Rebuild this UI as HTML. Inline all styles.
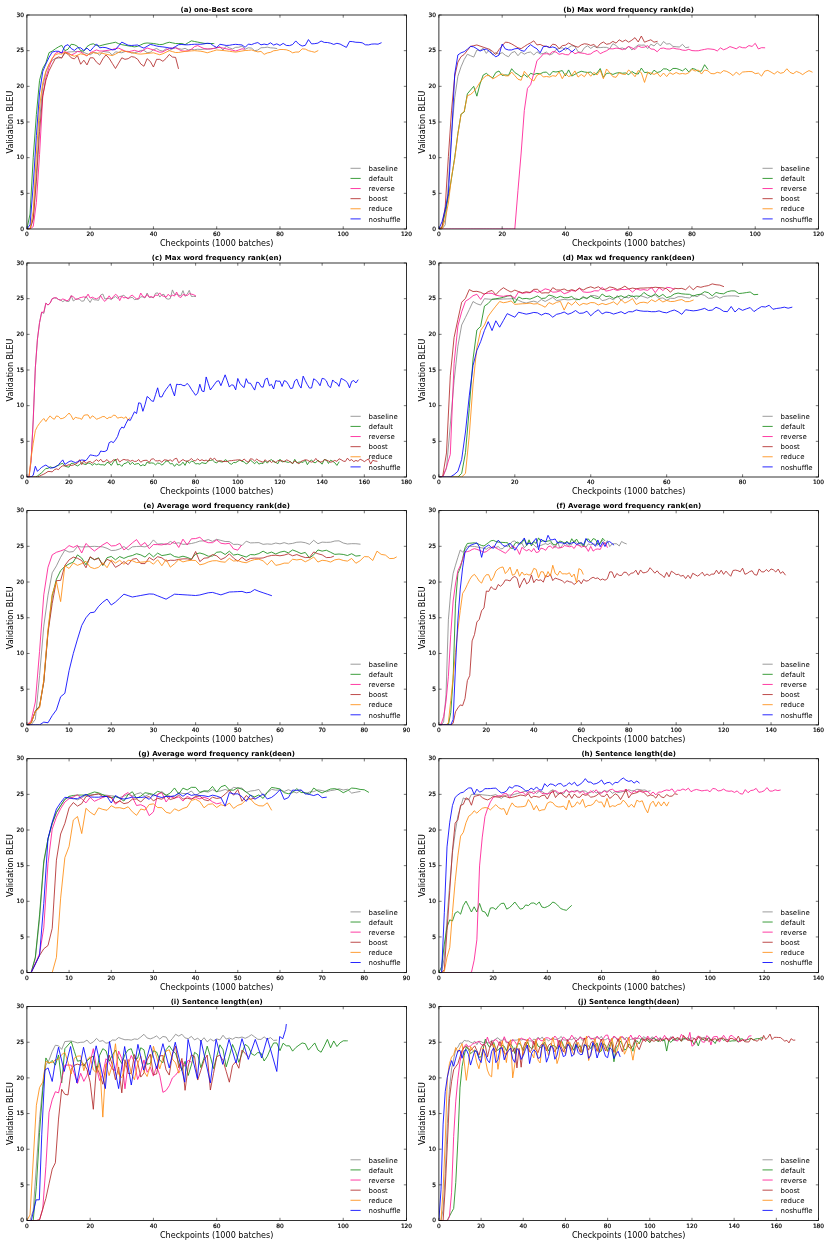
<!DOCTYPE html><html><head><meta charset="utf-8"><title>Validation BLEU curves</title><style>html,body{margin:0;padding:0;background:#fff;}svg{display:block;}</style></head><body>
<svg width="830" height="1246" viewBox="0 0 830 1246" font-family="DejaVu Sans,Liberation Sans,sans-serif">
<rect x="0" y="0" width="830" height="1246" fill="#fff"/>
<clipPath id="ca"><rect x="26.9" y="14" width="379.6" height="215"/></clipPath>
<g clip-path="url(#ca)" fill="none" stroke-width="0.85" stroke-linejoin="round" stroke-linecap="round">
<polyline stroke="#8a8a8a" points="26.9,229 30.06,229 33.23,217.59 36.39,173.76 39.55,120.57 42.72,87.13 45.88,72.12 49.04,64.4 52.21,60.47 55.37,58.37 58.53,58.08 61.7,57.57 64.86,53.01 68.02,51.97 71.19,51.83 74.35,51.68 77.51,51.53 80.68,51.38 83.84,52.53 87,53.68 90.17,54.83 93.33,52.65 96.49,52.69 99.66,55.32 102.82,51.4 105.98,51.81 109.15,52.2 112.31,55.11 115.47,51.84 118.64,52.37 121.8,52.78 124.96,51.55 128.13,51.27 131.29,53.03 134.45,52.66 137.62,51.99 140.78,50.35 143.94,50.37 147.11,52.63 150.27,52.25 153.43,49.72 156.6,48.5 159.76,50.42 162.92,51.12 166.09,48.69 169.25,50.35 172.41,48.88 175.58,47.68 178.74,48.72 181.9,49.29 185.07,48.3 188.23,49.99 191.39,49.33 194.56,49.76 197.72,49.22 200.88,49.51 204.05,49.05 207.21,49.23 210.37,48.56 213.54,48.52 216.7,48.15 219.86,46.49 223.03,50.04 226.19,46.15 229.35,47.88 232.52,48.92 235.68,47.32 238.84,47.22 242.01,46.2 245.17,49.18 248.33,47.77 251.5,48.14 254.66,50.69 257.82,50.05 260.99,47.76 264.15,47.63 267.31,47.13 270.48,47.84 273.64,48.02 276.8,48.53"/>
<polyline stroke="#1a8c1a" points="26.9,229 30.06,214.07 33.23,157.67 36.39,114.53 39.55,80.33 42.72,68.5 45.88,62.86 49.04,52.65 52.21,51.14 55.37,48.85 58.53,46.9 61.7,45.34 64.86,50.67 68.02,49.24 71.19,44.25 74.35,44.74 77.51,46.39 80.68,50.67 83.84,51.15 87,46.59 90.17,44.53 93.33,43.77 96.49,45.51 99.66,45.91 102.82,45 105.98,44.25 109.15,43.58 112.31,42.91 115.47,42.24 118.64,43.66 121.8,44.66 124.96,45.26 128.13,45.83 131.29,46.34 134.45,46.85 137.62,46.36 140.78,44.89 143.94,43.41 147.11,42.97 150.27,43.23 153.43,43.48 156.6,44.03 159.76,44.65 162.92,44.34 166.09,43.1 169.25,42.24 172.41,42.88 175.58,43.53 178.74,43.53 181.9,43.53 185.07,44.64 188.23,42.68 191.39,40.87 194.56,41.49 197.72,42.11 200.88,42.73 204.05,43.35 207.21,43.53 210.37,43.53 213.54,43.53 213.85,43.53"/>
<polyline stroke="#ff1a94" points="26.9,229 30.06,229 33.23,226.58 36.39,202.43 39.55,154.53 42.72,96.81 45.88,77.47 49.04,67.28 52.21,58.81 55.37,53.46 58.53,51.72 61.7,52.75 64.86,51.61 68.02,52.9 71.19,54.95 74.35,53.66 77.51,51.48 80.68,51.99 83.84,54.11 87,56.05 90.17,52.81 93.33,51.38 96.49,49.95 99.66,51.02 102.82,51 105.98,50.58 109.15,50.16 112.31,49.49 115.47,48.56 118.64,48.11 121.8,49.58 124.96,51.06 128.13,51.86 131.29,51.1 134.45,50.34 137.62,51.25 140.78,51.9 143.94,49.63 147.11,48.01 150.27,48.98 153.43,49.95 156.6,51.09 159.76,52.24 162.92,51.88 166.09,50.02 169.25,48.46 172.41,48.14 175.58,47.81 178.74,49.36 181.9,50.91 185.07,51.15 188.23,50.83 191.39,49.31 194.56,46.59 197.72,45.58 200.88,47.13 204.05,48.56 207.21,48.87 210.37,49.18 213.54,48.46 216.7,47.49 219.86,47.47 223.03,48.09 226.19,48.75 229.35,49.5 232.52,50.25 235.68,51 238.84,49.95 242.01,48.8 244.54,49.24"/>
<polyline stroke="#b22a2a" points="26.9,229 30.06,229 33.23,219.49 36.39,181.14 39.55,131.41 42.72,95.7 45.88,80.43 49.04,70.8 52.21,64.46 55.37,58.59 58.53,56.89 61.7,58.14 64.86,52.45 68.02,54.23 71.19,57.8 74.35,58.9 77.51,55.66 80.68,64.22 83.84,60.21 87,64.93 90.17,57.8 93.33,57.8 96.49,62.16 99.66,64.7 102.82,58.93 105.98,54.88 109.15,58.31 112.31,63.4 115.47,68.5 118.64,63.15 121.8,57.8 124.96,59.33 128.13,58.68 131.29,56.58 134.45,57.18 137.62,59.23 140.78,63.98 143.94,66.26 147.11,58.66 150.27,61.37 153.43,67.02 156.6,59.34 159.76,59.36 162.92,61.3 166.09,58.41 169.25,54.47 172.41,57.02 175.58,57.41 178.42,68.5"/>
<polyline stroke="#ff8c10" points="26.9,229 30.06,229 33.23,210.98 36.39,154.18 39.55,106.72 42.72,83.1 45.88,71.17 49.04,64.18 52.21,58.33 55.37,54.77 58.53,53.69 61.7,54.15 64.86,52.44 68.02,53.52 71.19,55.02 74.35,56.26 77.51,55.17 80.68,53.81 83.84,54.53 87,55.46 90.17,53.48 93.33,52.45 96.49,53.46 99.66,52.87 102.82,53.45 105.98,54.16 109.15,54.88 112.31,55.59 115.47,54.11 118.64,52.39 121.8,50.67 124.96,51.3 128.13,51.94 131.29,52.58 134.45,53.21 137.62,53.85 140.78,54.1 143.94,53.78 147.11,53.46 150.27,53.13 153.43,52.81 156.6,53.78 159.76,54.75 162.92,53.72 166.09,52.2 169.25,50.67 172.41,51.6 175.58,52.53 178.74,52.44 181.9,51.91 185.07,51.38 188.23,51.14 191.39,50.9 194.56,50.67 197.72,50.95 200.88,51.24 204.05,51.86 207.21,52.81 210.37,51.86 213.54,50.9 216.7,49.95 219.86,50.24 223.03,50.52 226.19,50.87 229.35,51.28 232.52,51.69 235.68,52.09 238.84,51.56 242.01,51.02 245.17,50.49 248.33,50.35 251.5,49.95 254.66,51.01 257.82,51.88 260.99,51.36 264.15,54.36 267.31,52.93 270.48,52.35 273.64,50.77 276.8,50.42 279.97,49.5 283.13,49.5 286.29,49.78 289.46,50.85 292.62,52.82 295.78,52.04 298.95,52.06 302.11,48.85 305.27,49.08 308.44,50.65 311.6,51.49 314.76,52.28 317.93,50.67"/>
<polyline stroke="#0000ff" points="26.9,229 30.06,224.8 33.23,185.13 36.39,135.45 39.55,92.87 42.72,71.65 45.88,64 49.04,57.36 52.21,52.02 55.37,51.24 58.53,51.3 61.7,53.1 64.86,46 68.02,44.64 71.19,48.53 74.35,50.41 77.51,47.81 80.68,47.81 83.84,50.52 87,48.11 90.17,51.08 93.33,47.46 96.49,43.92 99.66,47.81 102.82,47.34 105.98,47.66 109.15,48.77 112.31,49.89 115.47,49.55 118.64,45.83 121.8,42.11 124.96,43.66 128.13,45.21 131.29,45.49 134.45,45.24 137.62,44.99 140.78,46.85 143.94,48.15 147.11,46.29 150.27,44.43 153.43,45.08 156.6,46.01 159.76,46.58 162.92,46.91 166.09,47.35 169.25,47.97 172.41,48.34 175.58,46.48 178.74,44.62 181.9,44.49 185.07,44.8 188.23,44.8 191.39,44.49 194.56,44.25 197.72,44.25 200.88,44.25 204.05,43.87 207.21,43.25 210.37,43.5 213.54,45.77 216.7,47.49 219.86,44.25 223.03,44.84 226.19,45.44 229.35,45.3 232.52,44.68 235.68,44.34 238.84,44.65 242.01,44.96 245.17,47.34 248.33,44.1 251.5,44.62 254.66,43.38 257.82,42.57 260.99,44.83 264.15,44.1 267.31,44.74 270.48,42.79 273.64,45.03 276.8,43.84 279.97,45.43 283.13,43.4 286.29,45.42 289.46,45.63 292.62,44.5 295.78,40.93 298.95,44.24 302.11,46.03 305.27,45.37 308.44,39.58 311.6,43.88 314.76,43.67 317.93,43.1 321.09,41 324.25,42.41 327.42,42.5 330.58,43.2 333.74,44.42 336.91,43.31 340.07,44.06 343.23,45.74 346.4,47.38 349.56,41.42 352.72,41.66 355.89,42.28 359.05,42.36 362.21,42.81 365.38,44.81 368.54,44.91 371.7,44.1 374.87,43.94 378.03,44.2 381.19,42.82"/>
</g>
<path d="M26.9 229v-2.7M26.9 15v2.7M90.17 229v-2.7M90.17 15v2.7M153.43 229v-2.7M153.43 15v2.7M216.7 229v-2.7M216.7 15v2.7M279.97 229v-2.7M279.97 15v2.7M343.23 229v-2.7M343.23 15v2.7M406.5 229v-2.7M406.5 15v2.7M26.9 229h2.7M406.5 229h-2.7M26.9 193.33h2.7M406.5 193.33h-2.7M26.9 157.67h2.7M406.5 157.67h-2.7M26.9 122h2.7M406.5 122h-2.7M26.9 86.33h2.7M406.5 86.33h-2.7M26.9 50.67h2.7M406.5 50.67h-2.7M26.9 15h2.7M406.5 15h-2.7" stroke="#000" stroke-width="0.55" fill="none"/>
<rect x="26.9" y="15" width="379.6" height="214" fill="none" stroke="#000" stroke-width="0.8"/>
<g font-size="5.9" fill="#000" stroke="#000" stroke-width="0.2"><text x="26.9" y="236" text-anchor="middle">0</text><text x="90.17" y="236" text-anchor="middle">20</text><text x="153.43" y="236" text-anchor="middle">40</text><text x="216.7" y="236" text-anchor="middle">60</text><text x="279.97" y="236" text-anchor="middle">80</text><text x="343.23" y="236" text-anchor="middle">100</text><text x="406.5" y="236" text-anchor="middle">120</text><text x="23.9" y="230.7" text-anchor="end">0</text><text x="23.9" y="195.03" text-anchor="end">5</text><text x="23.9" y="159.37" text-anchor="end">10</text><text x="23.9" y="123.7" text-anchor="end">15</text><text x="23.9" y="88.03" text-anchor="end">20</text><text x="23.9" y="52.37" text-anchor="end">25</text><text x="23.9" y="16.7" text-anchor="end">30</text></g>
<text x="216.7" y="12" text-anchor="middle" font-size="7" font-weight="bold">(a) one-Best score</text>
<text x="216.7" y="246" text-anchor="middle" font-size="8.07">Checkpoints (1000 batches)</text>
<text transform="translate(12.8 122) rotate(-90)" text-anchor="middle" font-size="8">Validation BLEU</text>
<g><path d="M350.5 168.3H360.7" stroke="#8a8a8a" stroke-width="0.85"/><text x="368.6" y="171" font-size="6.95">baseline</text><path d="M350.5 178.42H360.7" stroke="#1a8c1a" stroke-width="0.85"/><text x="368.6" y="181.12" font-size="6.95">default</text><path d="M350.5 188.54H360.7" stroke="#ff1a94" stroke-width="0.85"/><text x="368.6" y="191.24" font-size="6.95">reverse</text><path d="M350.5 198.66H360.7" stroke="#b22a2a" stroke-width="0.85"/><text x="368.6" y="201.36" font-size="6.95">boost</text><path d="M350.5 208.78H360.7" stroke="#ff8c10" stroke-width="0.85"/><text x="368.6" y="211.48" font-size="6.95">reduce</text><path d="M350.5 218.9H360.7" stroke="#0000ff" stroke-width="0.85"/><text x="368.6" y="221.6" font-size="6.95">noshuffle</text></g>
<clipPath id="cb"><rect x="438.9" y="14" width="379.6" height="215"/></clipPath>
<g clip-path="url(#cb)" fill="none" stroke-width="0.85" stroke-linejoin="round" stroke-linecap="round">
<polyline stroke="#8a8a8a" points="438.9,229 442.06,229 445.23,224.83 448.39,183.13 451.55,131.99 454.72,97.75 457.88,76.35 461.04,66.84 464.21,59.46 467.37,54.23 470.53,55.66 473.7,57.09 476.86,50.06 480.02,50.45 483.19,48.23 486.35,53.41 489.51,49.38 492.68,54.89 495.84,52.5 499,54.26 502.17,52.6 505.33,55.25 508.49,56.76 511.66,52.72 514.82,51.5 517.98,55.71 521.15,52.04 524.31,54.17 527.47,52.56 530.64,52.05 533.8,55.03 536.96,51.85 540.13,53.96 543.29,53.5 546.45,52.05 549.62,55.01 552.78,53.62 555.94,49.66 559.11,48.47 562.27,47.72 565.43,50.23 568.6,47.64 571.76,45.67 574.92,46.4 578.09,51.77 581.25,52.44 584.41,47.74 587.58,45.83 590.74,48.44 593.9,46.24 597.07,47.65 600.23,47.58 603.39,47.32 606.56,47.38 609.72,48.65 612.88,43.69 616.05,45.56 619.21,48.61 622.37,47.92 625.54,49.44 628.7,46.07 631.86,49.98 635.03,47.46 638.19,44.97 641.35,45.19 644.52,44.98 647.68,48.56 650.84,44.22 654.01,45.96 657.17,42.66 660.33,45.91 663.5,41.54 666.66,44.07 669.82,43.67 672.99,46.41 676.15,46.75 679.31,47.01 682.48,44.35 685.64,47.75 688.8,47.1"/>
<polyline stroke="#1a8c1a" points="438.9,229 442.06,227.46 445.23,212.05 448.39,196.64 451.55,178.05 454.72,157.33 457.88,133.59 461.04,114.21 464.21,112.01 467.37,93.78 470.53,90.06 473.7,86.33 476.86,96.17 480.02,83.99 483.19,75.06 486.35,73.32 489.51,76.04 492.68,77.94 495.84,72.49 499,71 502.17,75.46 505.33,74.88 508.49,75.29 511.66,68.71 514.82,72.57 517.98,74.52 521.15,76.93 524.31,74.53 527.47,77.24 530.64,73.27 533.8,74.49 536.96,73.42 540.13,73.86 543.29,72.37 546.45,72.06 549.62,75.26 552.78,71.47 555.94,71.99 559.11,71.4 562.27,70.57 565.43,75.91 568.6,69.91 571.76,76.06 574.92,74.34 578.09,72.56 581.25,71.27 584.41,71.99 587.58,72.44 590.74,72.07 593.9,74.98 597.07,72.98 600.23,68.54 603.39,77.41 606.56,73.37 609.72,73.1 612.88,74.48 616.05,73.12 619.21,72.67 622.37,73.28 625.54,72.94 628.7,74.72 631.86,71.48 635.03,73.44 638.19,74.04 641.35,68.07 644.52,72.6 647.68,72.21 650.84,74.55 654.01,70.17 657.17,72.51 660.33,71.64 663.5,68.84 666.66,68.97 669.82,71 672.99,68.46 676.15,68.44 679.31,69.46 682.48,70.89 685.64,68.35 688.8,71.95 691.97,68.49 695.13,69.19 698.29,71.41 701.46,71.09 704.62,64.73 707.78,69.21"/>
<polyline stroke="#ff1a94" points="438.9,229 442.06,229 445.23,229 448.39,229 451.55,229 454.72,229 457.88,229 461.04,229 464.21,229 467.37,229 470.53,229 473.7,229 476.86,229 480.02,229 483.19,229 486.35,229 489.51,229 492.68,229 495.84,229 499,229 502.17,229 505.33,229 508.49,229 511.66,229 514.82,229 517.98,190.36 521.15,153.06 524.31,110.59 527.47,88.42 530.64,84.58 533.8,73.49 536.96,60.65 540.13,57.74 543.29,53.96 546.45,53.7 549.62,54.12 552.78,51.62 555.94,52.01 559.11,54.33 562.27,53.52 565.43,54.57 568.6,54.88 571.76,50.97 574.92,53.76 578.09,52.52 581.25,53.04 584.41,53.44 587.58,54.43 590.74,53.95 593.9,51.65 597.07,50.33 600.23,53.71 603.39,52.12 606.56,50.74 609.72,48.7 612.88,48.92 616.05,48.14 619.21,48.43 622.37,49.68 625.54,48.51 628.7,46.58 631.86,47.85 635.03,49.51 638.19,46 641.35,47.35 644.52,47.12 647.68,45.65 650.84,49.01 654.01,49.3 657.17,51.77 660.33,48.49 663.5,48.02 666.66,48.95 669.82,49.03 672.99,47.96 676.15,48.83 679.31,49.17 682.48,50.11 685.64,50.4 688.8,49.33 691.97,50.58 695.13,50.8 698.29,50.76 701.46,50.01 704.62,49.4 707.78,48.79 710.95,49.07 714.11,49.48 717.27,50.96 720.44,47.89 723.6,49.77 726.76,48.52 729.93,46.59 733.09,47.62 736.25,48.8 739.42,46.66 742.58,47.72 745.74,47.81 748.91,45.57 752.07,46.43 755.23,43.33 758.4,48.94 761.56,47.67 764.72,47.81"/>
<polyline stroke="#b22a2a" points="438.9,229 442.06,226.96 445.23,206.51 448.39,156.6 451.55,110.16 454.72,76.35 457.88,62.08 461.04,56.66 464.21,54.45 467.37,50.42 470.53,46.39 473.7,45.67 476.86,44.96 480.02,46.06 483.19,47.15 486.35,48.24 489.51,49.31 492.68,51.49 495.84,54.45 499,49.58 502.17,45.86 505.33,42.14 508.49,42.53 511.66,43.96 514.82,45.84 517.98,47.84 521.15,48.62 524.31,46.55 527.47,44.48 530.64,42.88 533.8,40.84 536.96,44.91 540.13,44.41 543.29,45.93 546.45,46.39 549.62,47.37 552.78,44.11 555.94,44.91 559.11,48.65 562.27,45.68 565.43,45.18 568.6,43.02 571.76,44.67 574.92,46.2 578.09,47.24 581.25,44.87 584.41,43.79 587.58,44.18 590.74,45.46 593.9,44.52 597.07,47.5 600.23,43.8 603.39,42 606.56,44.28 609.72,43.63 612.88,41.38 616.05,43.13 619.21,39.82 622.37,41.68 625.54,40.05 628.7,42.18 631.86,40.16 635.03,37.67 638.19,41.99 641.35,36.02 644.52,42.21 647.68,40.91 650.84,39.79 654.01,42.2 657.17,41.39"/>
<polyline stroke="#ff8c10" points="438.9,229 442.06,229 445.23,219.25 448.39,203 451.55,176.93 454.72,158.67 457.88,134.13 461.04,114.54 464.21,111.3 467.37,95.61 470.53,94.51 473.7,91.68 476.86,87.35 480.02,82.26 483.19,78.2 486.35,75.7 489.51,75.54 492.68,78.87 495.84,77.22 499,75.03 502.17,74.03 505.33,75.81 508.49,75.91 511.66,72.07 514.82,75.63 517.98,79.2 521.15,80.27 524.31,71.35 527.47,75.17 530.64,79 533.8,80.98 536.96,75.23 540.13,73.73 543.29,76.98 546.45,76.47 549.62,77.04 552.78,75.66 555.94,76.3 559.11,71.84 562.27,78.7 565.43,73.42 568.6,76.54 571.76,75.24 574.92,70.91 578.09,77.05 581.25,74.46 584.41,76.75 587.58,72.31 590.74,76.25 593.9,72.42 597.07,74.98 600.23,70.07 603.39,78.71 606.56,68.98 609.72,72.72 612.88,76.68 616.05,77.31 619.21,72.76 622.37,74.16 625.54,74.48 628.7,69.96 631.86,73.07 635.03,76.73 638.19,70.55 641.35,72.7 644.52,82.41 647.68,72.62 650.84,72.93 654.01,74.43 657.17,72.83 660.33,76.71 663.5,73.02 666.66,76.56 669.82,72.74 672.99,74.41 676.15,72.47 679.31,74 682.48,73.48 685.64,74.06 688.8,72.84 691.97,69.4 695.13,71.03 698.29,69.99 701.46,74.05 704.62,70.01 707.78,70.78 710.95,73.52 714.11,73.8 717.27,72.29 720.44,73.15 723.6,70.63 726.76,71.43 729.93,73.1 733.09,75.58 736.25,72.1 739.42,74.7 742.58,72.05 745.74,71.74 748.91,71.53 752.07,71.63 755.23,73.63 758.4,73.1 761.56,76.14 764.72,71.06 767.89,70.4 771.05,72.09 774.21,74.09 777.38,71.46 780.54,73.3 783.7,72.44 786.87,68.75 790.03,72.35 793.19,73.73 796.36,71.43 799.52,72.66 802.68,74.6 805.85,72.29 809.01,70.6 812.17,72.07"/>
<polyline stroke="#0000ff" points="438.9,229 442.06,221.64 445.23,209.37 448.39,193.33 451.55,137.9 454.72,73.97 457.88,54.95 461.04,52.81 464.21,51.67 467.37,49.24 470.53,46.39 473.7,46.86 476.86,48.75 480.02,51.09 483.19,49.67 486.35,49.05 489.51,51.64 492.68,54.23 495.84,56.83 499,55.09 502.17,44.03 505.33,48.97 508.49,49.95 511.66,49.95 514.82,48.81 517.98,48.42 521.15,50.46 524.31,51.31 527.47,47.39 530.64,44.7 533.8,46.97 536.96,48.82 540.13,52.86 543.29,46.64 546.45,46.22 549.62,47.59 552.78,46.95 555.94,48.02 559.11,52.15 562.27,50.51 565.43,47.91 568.6,48.9 571.76,52.05 574.92,49.24"/>
</g>
<path d="M438.9 229v-2.7M438.9 15v2.7M502.17 229v-2.7M502.17 15v2.7M565.43 229v-2.7M565.43 15v2.7M628.7 229v-2.7M628.7 15v2.7M691.97 229v-2.7M691.97 15v2.7M755.23 229v-2.7M755.23 15v2.7M818.5 229v-2.7M818.5 15v2.7M438.9 229h2.7M818.5 229h-2.7M438.9 193.33h2.7M818.5 193.33h-2.7M438.9 157.67h2.7M818.5 157.67h-2.7M438.9 122h2.7M818.5 122h-2.7M438.9 86.33h2.7M818.5 86.33h-2.7M438.9 50.67h2.7M818.5 50.67h-2.7M438.9 15h2.7M818.5 15h-2.7" stroke="#000" stroke-width="0.55" fill="none"/>
<rect x="438.9" y="15" width="379.6" height="214" fill="none" stroke="#000" stroke-width="0.8"/>
<g font-size="5.9" fill="#000" stroke="#000" stroke-width="0.2"><text x="438.9" y="236" text-anchor="middle">0</text><text x="502.17" y="236" text-anchor="middle">20</text><text x="565.43" y="236" text-anchor="middle">40</text><text x="628.7" y="236" text-anchor="middle">60</text><text x="691.97" y="236" text-anchor="middle">80</text><text x="755.23" y="236" text-anchor="middle">100</text><text x="818.5" y="236" text-anchor="middle">120</text><text x="435.9" y="230.7" text-anchor="end">0</text><text x="435.9" y="195.03" text-anchor="end">5</text><text x="435.9" y="159.37" text-anchor="end">10</text><text x="435.9" y="123.7" text-anchor="end">15</text><text x="435.9" y="88.03" text-anchor="end">20</text><text x="435.9" y="52.37" text-anchor="end">25</text><text x="435.9" y="16.7" text-anchor="end">30</text></g>
<text x="628.7" y="12" text-anchor="middle" font-size="7" font-weight="bold">(b) Max word frequency rank(de)</text>
<text x="628.7" y="246" text-anchor="middle" font-size="8.07">Checkpoints (1000 batches)</text>
<text transform="translate(424.8 122) rotate(-90)" text-anchor="middle" font-size="8">Validation BLEU</text>
<g><path d="M762.5 168.3H772.7" stroke="#8a8a8a" stroke-width="0.85"/><text x="780.6" y="171" font-size="6.95">baseline</text><path d="M762.5 178.42H772.7" stroke="#1a8c1a" stroke-width="0.85"/><text x="780.6" y="181.12" font-size="6.95">default</text><path d="M762.5 188.54H772.7" stroke="#ff1a94" stroke-width="0.85"/><text x="780.6" y="191.24" font-size="6.95">reverse</text><path d="M762.5 198.66H772.7" stroke="#b22a2a" stroke-width="0.85"/><text x="780.6" y="201.36" font-size="6.95">boost</text><path d="M762.5 208.78H772.7" stroke="#ff8c10" stroke-width="0.85"/><text x="780.6" y="211.48" font-size="6.95">reduce</text><path d="M762.5 218.9H772.7" stroke="#0000ff" stroke-width="0.85"/><text x="780.6" y="221.6" font-size="6.95">noshuffle</text></g>
<clipPath id="cc"><rect x="26.9" y="262" width="379.6" height="215"/></clipPath>
<g clip-path="url(#cc)" fill="none" stroke-width="0.85" stroke-linejoin="round" stroke-linecap="round">
<polyline stroke="#8a8a8a" points="26.9,477 29.01,477 31.12,460.36 33.23,419.93 35.34,367.86 37.44,339.15 39.55,322.6 41.66,312.22 43.77,313.45 45.88,303.14 47.99,305.04 50.1,303.12 52.21,298.67 54.32,297.87 56.42,298.39 58.53,299.51 60.64,299.92 62.75,301.68 64.86,300.36 66.97,301.42 69.08,301.35 71.19,295.63 73.3,300.99 75.4,299.56 77.51,298.66 79.62,299.46 81.73,301.18 83.84,300.94 85.95,296.3 88.06,299.5 90.17,302.43 92.28,298.49 94.38,299.75 96.49,299.95 98.6,300.38 100.71,295.03 102.82,294.01 104.93,299.1 107.04,298.38 109.15,298.47 111.26,299.59 113.36,297.8 115.47,296.5 117.58,298.3 119.69,296.56 121.8,296.13 123.91,295.17 126.02,297.65 128.13,298.27 130.24,297.78 132.34,297.28 134.45,299.67 136.56,299.33 138.67,299.2 140.78,296.75 142.89,296.86 145,298 147.11,293.04 149.22,297.28 151.32,297.33 153.43,297.58 155.54,293.27 157.65,292.87 159.76,297.09 161.87,294.81 163.98,294.31 166.09,298.47 168.2,299.22 170.3,298.51 172.41,289.91 174.52,294.46 176.63,294.29 178.74,295.19 180.85,295.72 182.96,290.62 185.07,296.3 187.18,294.25 189.28,290.34 191.39,296.48 193.5,296.36 195.61,296.53"/>
<polyline stroke="#1a8c1a" points="26.9,477 29.01,477 31.12,477 33.23,477 35.34,477 37.44,476 39.55,474.34 41.66,472.67 43.77,470.66 45.88,468.4 47.99,468.41 50.1,466.77 52.21,467.61 54.32,467.63 56.42,465.9 58.53,465.47 60.64,463.96 62.75,463.45 64.86,465.96 66.97,466.83 69.08,467.11 71.19,463.42 73.3,463.25 75.4,464.81 77.51,465.91 79.62,464.66 81.73,462.53 83.84,464.06 85.95,464.55 88.06,462.98 90.17,463.44 92.28,465.29 94.38,463.55 96.49,464.68 98.6,463.99 100.71,464.77 102.82,464.72 104.93,465.23 107.04,462.38 109.15,462.94 111.26,465.4 113.36,462.11 115.47,459.02 117.58,464.98 119.69,464.25 121.8,466.38 123.91,463.7 126.02,463.17 128.13,461.48 130.24,464.59 132.34,462.25 134.45,464.53 136.56,463.82 138.67,463.53 140.78,466.03 142.89,464.66 145,465.74 147.11,462 149.22,463.28 151.32,462.91 153.43,463.2 155.54,464.82 157.65,463.04 159.76,463.46 161.87,465.07 163.98,463.59 166.09,460.98 168.2,461.19 170.3,463.94 172.41,463.56 174.52,466.35 176.63,463.78 178.74,465.35 180.85,464.75 182.96,462.2 185.07,465.36 187.18,460.75 189.28,463.24 191.39,461.29 193.5,461.65 195.61,463.98 197.72,463.59 199.83,464.18 201.94,462.54 204.05,463.28 206.16,463.47 208.26,460.38 210.37,460.48 212.48,459.96 214.59,462.03 216.7,462.99 218.81,460.65 220.92,461.91 223.03,461.95 225.14,459.68 227.24,460.77 229.35,463.3 231.46,464.29 233.57,462.51 235.68,462.61 237.79,461.35 239.9,459.86 242.01,461.41 244.12,461.85 246.22,464 248.33,462.69 250.44,460.2 252.55,461.85 254.66,463.76 256.77,461.44 258.88,464.12 260.99,463.17 263.1,463.49 265.2,460.8 267.31,463.15 269.42,460.69 271.53,459.59 273.64,461.86 275.75,462.42 277.86,463.67 279.97,459.16 282.08,462.03 284.18,461.17 286.29,461.9 288.4,462.46 290.51,461.47 292.62,463.89 294.73,459.35 296.84,462.85 298.95,462.11 301.06,462.01 303.16,462.35 305.27,460.14 307.38,464.68 309.49,461.46 311.6,459.94 313.71,462.53 315.82,462.67 317.93,460.06 320.04,462.23 322.14,464.15 324.25,459.52 326.36,459.95 328.47,463.46 330.58,460.22 332.69,461.27 334.8,462.75 336.91,465.41 339.02,462.02"/>
<polyline stroke="#ff1a94" points="26.9,477 29.01,477 31.12,460.36 33.23,419.93 35.34,367.86 37.44,339.15 39.55,322.6 41.66,312.22 43.77,312.28 45.88,303.14 47.99,305.04 50.1,303.12 52.21,298.67 54.32,297.87 56.42,297.62 58.53,299.49 60.64,300.38 62.75,298.95 64.86,299.66 66.97,300.9 69.08,299.62 71.19,295.81 73.3,296.62 75.4,299.15 77.51,299.26 79.62,297.78 81.73,297.39 83.84,296.79 85.95,297.74 88.06,294.13 90.17,298.13 92.28,297.13 94.38,298.21 96.49,298.88 98.6,297.7 100.71,295.73 102.82,299.46 104.93,301.39 107.04,299.08 109.15,295.83 111.26,299.02 113.36,296.56 115.47,294.34 117.58,295.8 119.69,300.6 121.8,296.29 123.91,297.96 126.02,297.14 128.13,298.86 130.24,296.23 132.34,295.06 134.45,297.32 136.56,298.87 138.67,298.44 140.78,293.09 142.89,296.47 145,297.32 147.11,294.55 149.22,297.23 151.32,296.5 153.43,297.71 155.54,295.01 157.65,295.5 159.76,292.88 161.87,295.59 163.98,296.32 166.09,297.27 168.2,294.26 170.3,296.48 172.41,295.16 174.52,296.03 176.63,292.08 178.74,296.6 180.85,297.51 182.96,294.51 185.07,295.04 187.18,295.53 189.28,293.64 191.39,294.15 193.5,294.65 195.61,295.81"/>
<polyline stroke="#b22a2a" points="26.9,477 29.01,477 31.12,477 33.23,477 35.34,477 37.44,477 39.55,476.05 41.66,475.1 43.77,474.15 45.88,472.96 47.99,471.46 50.1,471.54 52.21,471.87 54.32,469.75 56.42,468.89 58.53,469.61 60.64,467.12 62.75,465.75 64.86,465.92 66.97,465.48 69.08,464.62 71.19,465.53 73.3,465.07 75.4,463.99 77.51,463.03 79.62,459.69 81.73,464.61 83.84,460.5 85.95,463.58 88.06,462 90.17,461.47 92.28,463.13 94.38,461.36 96.49,459.64 98.6,461.4 100.71,459.23 102.82,461.99 104.93,461.26 107.04,459.55 109.15,462.06 111.26,462.14 113.36,459.77 115.47,460.52 117.58,458.77 119.69,462.06 121.8,460.32 123.91,459.4 126.02,460.07 128.13,459.88 130.24,461.29 132.34,460.33 134.45,461.42 136.56,461.27 138.67,459.52 140.78,462.26 142.89,460.72 145,460.32 147.11,460.31 149.22,462.47 151.32,459.14 153.43,458.79 155.54,460.77 157.65,460.92 159.76,460.51 161.87,462.31 163.98,459.9 166.09,459.97 168.2,460.59 170.3,459.88 172.41,461.38 174.52,458.86 176.63,458.3 178.74,462.84 180.85,461 182.96,459.53 185.07,460.87 187.18,461.36 189.28,460.34 191.39,458.55 193.5,460.6 195.61,460.7 197.72,458.81 199.83,460.76 201.94,459.73 204.05,460.77 206.16,460.12 208.26,461.47 210.37,458 212.48,459.66 214.59,458.2 216.7,460.86 218.81,461.24 220.92,460.67 223.03,461.61 225.14,461.45 227.24,461.64 229.35,460.69 231.46,460.68 233.57,460.32 235.68,460.11 237.79,459.83 239.9,460.02 242.01,460.86 244.12,459.04 246.22,460.98 248.33,462.3 250.44,458.75 252.55,459.19 254.66,461.09 256.77,459 258.88,460.73 260.99,461.36 263.1,462.3 265.2,459.7 267.31,461.85 269.42,460.58 271.53,462.51 273.64,460.71 275.75,462.69 277.86,460.45 279.97,460.83 282.08,460.72 284.18,462.03 286.29,459.83 288.4,460.55 290.51,462.13 292.62,463.42 294.73,460.91 296.84,462.34 298.95,463.9 301.06,461.47 303.16,460.57 305.27,459.74 307.38,460.15 309.49,461.38 311.6,462.15 313.71,461.28 315.82,458.44 317.93,461.12 320.04,462.05 322.14,461.8 324.25,459.64 326.36,460.21 328.47,461.01 330.58,462.25 332.69,461.59 334.8,460.43 336.91,461.37 339.02,458.77 341.12,459.7 343.23,461.1 345.34,461.44 347.45,458.15 349.56,460.66 351.67,459.62 353.78,461.65 355.89,460.42 358,461.3 360.1,459.23 362.21,460.21 364.32,461.63 366.43,460.18 368.54,458.92 370.65,464.06 372.76,460.31 374.87,460.99 376.98,461.31"/>
<polyline stroke="#ff8c10" points="26.9,477 29.01,477 31.12,457.65 33.23,443.21 35.34,430.63 37.44,426.35 39.55,423.32 41.66,420.71 43.77,418.51 45.88,421.55 47.99,418.44 50.1,415.88 52.21,418.13 54.32,419.27 56.42,415.94 58.53,416.52 60.64,418.77 62.75,418.36 64.86,417.29 66.97,415.28 69.08,413.03 71.19,415.72 73.3,419.8 75.4,417.25 77.51,417.96 79.62,418.32 81.73,419.29 83.84,415.4 85.95,414.87 88.06,414.91 90.17,418.51 92.28,415.83 94.38,417.06 96.49,419.3 98.6,418.44 100.71,417.57 102.82,416.47 104.93,416.75 107.04,418.9 109.15,417.3 111.26,417.43 113.36,415.15 115.47,415.46 117.58,418.18 119.69,417.51 121.8,417.25 123.91,418.36 126.02,416.74 128.13,420.21 129.81,417.79"/>
<polyline stroke="#0000ff" points="26.9,477 29.01,477 31.12,477 33.23,475.22 35.34,466.3 37.44,471.36 39.55,469.22 41.66,467.34 43.77,466.04 45.88,465.03 47.99,466.58 50.1,468.13 52.21,467.89 54.32,467.2 56.42,466.51 58.53,464.64 60.64,462.26 62.75,459.88 64.86,464.45 66.97,463.02 69.08,461.59 71.19,460.86 73.3,461.75 75.4,462.64 77.51,461.78 79.62,460.73 81.73,459.94 83.84,460.25 85.95,460.56 88.06,457.89 90.17,454.89 92.28,455.28 94.38,455.68 96.49,456.05 98.6,455.09 100.71,451.01 102.82,451.52 104.93,451.44 107.04,450.25 109.15,442.68 111.26,441.52 113.36,442.65 115.47,439.91 117.58,436.42 119.69,430.08 121.8,427.07 123.91,428.06 126.02,423.41 128.13,419.46 130.24,420.49 132.34,416.15 134.45,411.81 136.56,413.51 138.67,402.81 140.78,403.32 142.89,411.29 145,404.7 147.11,396.5 149.22,398.06 151.32,400.7 153.43,401.45 155.54,394.63 157.65,387.8 159.76,396.75 161.87,396.96 163.98,392.68 166.09,389.44 168.2,386.64 170.3,383.83 172.41,390.33 174.52,395.93 176.63,384.22 178.74,384.58 180.85,384.38 182.96,385.53 185.07,385.69 187.18,383.32 189.28,385.69 191.39,389.26 193.5,392.28 195.61,395.3 197.72,392.94 199.83,384.23 201.94,390.99 204.05,391.64 206.16,376.95 208.26,383.46 210.37,389.97 212.48,387.08 214.59,384.19 216.7,381.3 218.81,380.75 220.92,385.69 223.03,380.26 225.14,374.82 227.24,380.7 229.35,387.05 231.46,384.8 233.57,385.27 235.68,389.85 237.79,378.46 239.9,383.3 242.01,385.91 244.12,387.64 246.22,378.68 248.33,383.13 250.44,383.2 252.55,386.72 254.66,390.08 256.77,382.16 258.88,382.66 260.99,386.66 263.1,387.22 265.2,379.38 267.31,378.15 269.42,385.73 271.53,384.35 273.64,388.99 275.75,380.61 277.86,381.23 279.97,381.17 282.08,386.49 284.18,380.68 286.29,381.43 288.4,384.53 290.51,388.56 292.62,388.14 294.73,380.95 296.84,379.15 298.95,384.88 301.06,388.05 303.16,376.12 305.27,380.61 307.38,384.71 309.49,388.11 311.6,387.91 313.71,378.77 315.82,380.21 317.93,382.25 320.04,385.72 322.14,378.35 324.25,378.92 326.36,380.87 328.47,386.02 330.58,387.57 332.69,379.97 334.8,382.22 336.91,383.12 339.02,386.39 341.12,378.46 343.23,379.45 345.34,380.73 347.45,382.68 349.56,387.84 351.67,381.48 353.78,380.52 355.89,383.01 358,379.99"/>
</g>
<path d="M26.9 477v-2.7M26.9 263v2.7M69.08 477v-2.7M69.08 263v2.7M111.26 477v-2.7M111.26 263v2.7M153.43 477v-2.7M153.43 263v2.7M195.61 477v-2.7M195.61 263v2.7M237.79 477v-2.7M237.79 263v2.7M279.97 477v-2.7M279.97 263v2.7M322.14 477v-2.7M322.14 263v2.7M364.32 477v-2.7M364.32 263v2.7M406.5 477v-2.7M406.5 263v2.7M26.9 477h2.7M406.5 477h-2.7M26.9 441.33h2.7M406.5 441.33h-2.7M26.9 405.67h2.7M406.5 405.67h-2.7M26.9 370h2.7M406.5 370h-2.7M26.9 334.33h2.7M406.5 334.33h-2.7M26.9 298.67h2.7M406.5 298.67h-2.7M26.9 263h2.7M406.5 263h-2.7" stroke="#000" stroke-width="0.55" fill="none"/>
<rect x="26.9" y="263" width="379.6" height="214" fill="none" stroke="#000" stroke-width="0.8"/>
<g font-size="5.9" fill="#000" stroke="#000" stroke-width="0.2"><text x="26.9" y="484" text-anchor="middle">0</text><text x="69.08" y="484" text-anchor="middle">20</text><text x="111.26" y="484" text-anchor="middle">40</text><text x="153.43" y="484" text-anchor="middle">60</text><text x="195.61" y="484" text-anchor="middle">80</text><text x="237.79" y="484" text-anchor="middle">100</text><text x="279.97" y="484" text-anchor="middle">120</text><text x="322.14" y="484" text-anchor="middle">140</text><text x="364.32" y="484" text-anchor="middle">160</text><text x="406.5" y="484" text-anchor="middle">180</text><text x="23.9" y="478.7" text-anchor="end">0</text><text x="23.9" y="443.03" text-anchor="end">5</text><text x="23.9" y="407.37" text-anchor="end">10</text><text x="23.9" y="371.7" text-anchor="end">15</text><text x="23.9" y="336.03" text-anchor="end">20</text><text x="23.9" y="300.37" text-anchor="end">25</text><text x="23.9" y="264.7" text-anchor="end">30</text></g>
<text x="216.7" y="260" text-anchor="middle" font-size="7" font-weight="bold">(c) Max word frequency rank(en)</text>
<text x="216.7" y="494" text-anchor="middle" font-size="8.07">Checkpoints (1000 batches)</text>
<text transform="translate(12.8 370) rotate(-90)" text-anchor="middle" font-size="8">Validation BLEU</text>
<g><path d="M350.5 416.3H360.7" stroke="#8a8a8a" stroke-width="0.85"/><text x="368.6" y="419" font-size="6.95">baseline</text><path d="M350.5 426.42H360.7" stroke="#1a8c1a" stroke-width="0.85"/><text x="368.6" y="429.12" font-size="6.95">default</text><path d="M350.5 436.54H360.7" stroke="#ff1a94" stroke-width="0.85"/><text x="368.6" y="439.24" font-size="6.95">reverse</text><path d="M350.5 446.66H360.7" stroke="#b22a2a" stroke-width="0.85"/><text x="368.6" y="449.36" font-size="6.95">boost</text><path d="M350.5 456.78H360.7" stroke="#ff8c10" stroke-width="0.85"/><text x="368.6" y="459.48" font-size="6.95">reduce</text><path d="M350.5 466.9H360.7" stroke="#0000ff" stroke-width="0.85"/><text x="368.6" y="469.6" font-size="6.95">noshuffle</text></g>
<clipPath id="cd"><rect x="438.9" y="262" width="379.6" height="215"/></clipPath>
<g clip-path="url(#cd)" fill="none" stroke-width="0.85" stroke-linejoin="round" stroke-linecap="round">
<polyline stroke="#8a8a8a" points="438.9,477 442.7,477 446.49,468.44 450.29,425.01 454.08,380.81 457.88,346.24 461.68,324.98 465.47,317.42 469.27,309.6 473.06,301.52 476.86,303.77 480.66,305.09 484.45,298.7 488.25,299.08 492.04,299.36 495.84,299.24 499.64,299.13 503.43,299.01 507.23,298.9 511.02,298.78 514.82,298.67 518.62,300.38 522.41,302.09 526.21,303.09 530,301.93 533.8,301.13 537.6,302.4 541.39,299.49 545.19,301.44 548.98,299.48 552.78,297.43 556.58,300.52 560.37,300.01 564.17,299.35 567.96,299.91 571.76,299.52 575.56,298.29 579.35,299.79 583.15,296.3 586.94,298.98 590.74,295.65 594.54,295.54 598.33,296.7 602.13,300.66 605.92,299.82 609.72,298.11 613.52,299.9 617.31,295.57 621.11,300.24 624.9,296.89 628.7,297.94 632.5,295.47 636.29,299.36 640.09,295.57 643.88,296.79 647.68,298.13 651.48,296.05 655.27,295.04 659.07,298.45 662.86,297.91 666.66,300.31 670.46,298.25 674.25,298.46 678.05,296.72 681.84,296.73 685.64,297.56 689.44,297.97 693.23,295.36 697.03,296.71 700.82,294.25 704.62,295.4 708.42,298.27 712.21,298.2 716.01,295.97 719.8,298.13 723.6,296.38 727.4,295.99 731.19,295.89 734.99,295.89 738.78,296.53"/>
<polyline stroke="#1a8c1a" points="438.9,477 442.7,477 446.49,477 450.29,477 454.08,477 457.88,477 461.68,473.37 465.47,452.68 469.27,408.52 473.06,358.94 476.86,330.05 480.66,326.33 484.45,306.11 488.25,303.46 492.04,299.27 495.84,298.72 499.64,298.17 503.43,297.28 507.23,296.15 511.02,295.19 514.82,302.95 518.62,296.91 522.41,298.81 526.21,298.41 530,299.12 533.8,297.61 537.6,295.96 541.39,298.44 545.19,298.16 548.98,295.04 552.78,296.04 556.58,297.91 560.37,296.25 564.17,297.75 567.96,297.69 571.76,296.5 575.56,299.81 579.35,299.45 583.15,297.55 586.94,298.19 590.74,296.03 594.54,297.88 598.33,298.6 602.13,294.01 605.92,296.6 609.72,296.06 613.52,298.33 617.31,296.88 621.11,295.78 624.9,297.69 628.7,295.22 632.5,296.63 636.29,296.03 640.09,296.39 643.88,292.41 647.68,295.22 651.48,296.74 655.27,293.66 659.07,296.75 662.86,294.38 666.66,297.66 670.46,296.54 674.25,294.03 678.05,293.06 681.84,293.82 685.64,294.15 689.44,294.32 693.23,296.04 697.03,294.73 700.82,294.2 704.62,291.69 708.42,292.69 712.21,295.87 716.01,292.48 719.8,293.47 723.6,293.8 727.4,291.66 731.19,290.87 734.99,290.91 738.78,293.56 742.58,293.16 746.38,292.58 750.17,292 753.97,294.71 757.76,294.39"/>
<polyline stroke="#ff1a94" points="438.9,477 442.7,477 446.49,467.23 450.29,454.38 454.08,363.31 457.88,326.03 461.68,311.79 465.47,301.27 469.27,298.81 473.06,295.71 476.86,294.26 480.66,299.45 484.45,293.64 488.25,293.26 492.04,293.35 495.84,295.18 499.64,295.93 503.43,296.36 507.23,295.52 511.02,296.05 514.82,297.95 518.62,291.85 522.41,293.44 526.21,292.6 530,292.75 533.8,290.69 537.6,292.43 541.39,291.05 545.19,288.82 548.98,289.81 552.78,292.16 556.58,291.96 560.37,290.74 564.17,293.7 567.96,292.48 571.76,290.47 575.56,291.28 579.35,288.27 583.15,291.84 586.94,292.38 590.74,292.09 594.54,290.73 598.33,290.91 602.13,287.42 605.92,291.1 609.72,290.39 613.52,289.13 617.31,290.47 621.11,289.46 624.9,289.61 628.7,288.91 632.5,292.06 636.29,288.84 640.09,290.13 643.88,289.6 647.68,290.36 651.48,287.38 655.27,292.61 659.07,287.63 662.86,290.54 666.66,287.33 670.46,287.71 674.25,289.39"/>
<polyline stroke="#b22a2a" points="438.9,477 442.7,476.37 446.49,452.94 450.29,375.81 454.08,337.5 457.88,319.49 461.68,302.23 465.47,298.38 469.27,289.59 473.06,291.53 476.86,291.32 480.66,292.35 484.45,294.28 488.25,291.57 492.04,290.43 495.84,294.69 499.64,290.56 503.43,287.73 507.23,290.11 511.02,292.05 514.82,290.11 518.62,291.61 522.41,292.85 526.21,291.75 530,292.46 533.8,289.33 537.6,289.25 541.39,293.13 545.19,292.76 548.98,292.93 552.78,287.65 556.58,289.99 560.37,290.01 564.17,288.96 567.96,290.95 571.76,289.65 575.56,290.87 579.35,288.1 583.15,290.11 586.94,288.02 590.74,286.81 594.54,288.28 598.33,286.72 602.13,289.41 605.92,289.17 609.72,286.94 613.52,287.7 617.31,289.55 621.11,288.37 624.9,286.11 628.7,288.97 632.5,288.07 636.29,288.81 640.09,288.12 643.88,288.04 647.68,287.84 651.48,287.79 655.27,287.22 659.07,287.64 662.86,287.83 666.66,288.7 670.46,292.21 674.25,288.25 678.05,288.67 681.84,288.4 685.64,289.73 689.44,286.11 693.23,289.77 697.03,286.44 700.82,287.3 704.62,286.28 708.42,285.58 712.21,283.89 716.01,284.73 719.8,285.1 723.6,286.54"/>
<polyline stroke="#ff8c10" points="438.9,477 442.7,477 446.49,477 450.29,477 454.08,477 457.88,477 461.68,477 465.47,473.36 469.27,435.23 473.06,384.12 476.86,347.57 480.66,330.41 484.45,325 488.25,316.17 492.04,310.94 495.84,306.14 499.64,301.52 503.43,302.71 507.23,302.05 511.02,300.92 514.82,304.37 518.62,304.06 522.41,303.75 526.21,303.55 530,303.09 533.8,304.03 537.6,303.64 541.39,305.22 545.19,307.21 548.98,302.58 552.78,304.32 556.58,302.29 560.37,301.41 564.17,310.08 567.96,302.4 571.76,305.08 575.56,301.47 579.35,305.44 583.15,303.44 586.94,304.21 590.74,302.55 594.54,302.75 598.33,304.95 602.13,303.44 605.92,304.63 609.72,303.4 613.52,301.85 617.31,304.76 621.11,299.68 624.9,303.05 628.7,301.18 632.5,298.58 636.29,304.58 640.09,302.6 643.88,302.2 647.68,303.07 651.48,299.73 655.27,301.65 659.07,299.22 662.86,301.97 666.66,300.42 670.46,301.54 674.25,301.39 678.05,300.24 681.84,299.56 685.64,301.69 689.44,301.54 693.23,300.09"/>
<polyline stroke="#0000ff" points="438.9,477 442.7,477 446.49,477 450.29,477 454.08,474.65 457.88,471.29 461.68,459.4 465.47,432.01 469.27,395.84 473.06,365.51 476.86,350.41 480.66,341.63 484.45,330.41 488.25,321.67 492.04,330.59 495.84,320.78 499.64,327.2 503.43,320.42 507.23,313.65 511.02,315.43 514.82,317.21 518.62,312.22 522.41,313.19 526.21,314.17 530,313.44 533.8,312.41 537.6,312.89 541.39,315.1 545.19,313.27 548.98,314 552.78,317.21 556.58,314.31 560.37,313.49 564.17,312 567.96,314.31 571.76,312.91 575.56,310.56 579.35,313.32 583.15,313.07 586.94,311.2 590.74,315.79 594.54,312.29 598.33,309.76 602.13,313.91 605.92,312.13 609.72,312.55 613.52,314.07 617.31,312.96 621.11,311.7 624.9,313.76 628.7,311.68 632.5,311.81 636.29,309.94 640.09,310.84 643.88,311.28 647.68,311.25 651.48,311.71 655.27,311.69 659.07,310.86 662.86,312.26 666.66,312.84 670.46,311.23 674.25,310 678.05,311.73 681.84,314.35 685.64,309.72 689.44,310.37 693.23,310.85 697.03,310.44 700.82,309.51 704.62,308.39 708.42,310.49 712.21,310.1 716.01,307.25 719.8,308.76 723.6,311.34 727.4,311.68 731.19,306.5 734.99,312.01 738.78,308.42 742.58,310.35 746.38,308.84 750.17,307.55 753.97,311.62 757.76,308.92 761.56,306.6 765.36,307.01 769.15,305.27 772.95,309.28 776.74,308.45 780.54,307.98 784.34,307.17 788.13,308.21 791.93,307.23"/>
</g>
<path d="M438.9 477v-2.7M438.9 263v2.7M514.82 477v-2.7M514.82 263v2.7M590.74 477v-2.7M590.74 263v2.7M666.66 477v-2.7M666.66 263v2.7M742.58 477v-2.7M742.58 263v2.7M818.5 477v-2.7M818.5 263v2.7M438.9 477h2.7M818.5 477h-2.7M438.9 441.33h2.7M818.5 441.33h-2.7M438.9 405.67h2.7M818.5 405.67h-2.7M438.9 370h2.7M818.5 370h-2.7M438.9 334.33h2.7M818.5 334.33h-2.7M438.9 298.67h2.7M818.5 298.67h-2.7M438.9 263h2.7M818.5 263h-2.7" stroke="#000" stroke-width="0.55" fill="none"/>
<rect x="438.9" y="263" width="379.6" height="214" fill="none" stroke="#000" stroke-width="0.8"/>
<g font-size="5.9" fill="#000" stroke="#000" stroke-width="0.2"><text x="438.9" y="484" text-anchor="middle">0</text><text x="514.82" y="484" text-anchor="middle">20</text><text x="590.74" y="484" text-anchor="middle">40</text><text x="666.66" y="484" text-anchor="middle">60</text><text x="742.58" y="484" text-anchor="middle">80</text><text x="818.5" y="484" text-anchor="middle">100</text><text x="435.9" y="478.7" text-anchor="end">0</text><text x="435.9" y="443.03" text-anchor="end">5</text><text x="435.9" y="407.37" text-anchor="end">10</text><text x="435.9" y="371.7" text-anchor="end">15</text><text x="435.9" y="336.03" text-anchor="end">20</text><text x="435.9" y="300.37" text-anchor="end">25</text><text x="435.9" y="264.7" text-anchor="end">30</text></g>
<text x="628.7" y="260" text-anchor="middle" font-size="7" font-weight="bold">(d) Max wd frequency rank(deen)</text>
<text x="628.7" y="494" text-anchor="middle" font-size="8.07">Checkpoints (1000 batches)</text>
<text transform="translate(424.8 370) rotate(-90)" text-anchor="middle" font-size="8">Validation BLEU</text>
<g><path d="M762.5 416.3H772.7" stroke="#8a8a8a" stroke-width="0.85"/><text x="780.6" y="419" font-size="6.95">baseline</text><path d="M762.5 426.42H772.7" stroke="#1a8c1a" stroke-width="0.85"/><text x="780.6" y="429.12" font-size="6.95">default</text><path d="M762.5 436.54H772.7" stroke="#ff1a94" stroke-width="0.85"/><text x="780.6" y="439.24" font-size="6.95">reverse</text><path d="M762.5 446.66H772.7" stroke="#b22a2a" stroke-width="0.85"/><text x="780.6" y="449.36" font-size="6.95">boost</text><path d="M762.5 456.78H772.7" stroke="#ff8c10" stroke-width="0.85"/><text x="780.6" y="459.48" font-size="6.95">reduce</text><path d="M762.5 466.9H772.7" stroke="#0000ff" stroke-width="0.85"/><text x="780.6" y="469.6" font-size="6.95">noshuffle</text></g>
<clipPath id="ce"><rect x="26.9" y="509.6" width="379.6" height="215.3"/></clipPath>
<g clip-path="url(#ce)" fill="none" stroke-width="0.85" stroke-linejoin="round" stroke-linecap="round">
<polyline stroke="#8a8a8a" points="26.9,724.9 31.12,724.9 35.34,719.36 39.55,675.68 43.77,626.18 47.99,595.23 52.21,572.81 56.42,565.89 60.64,557.24 64.86,550.17 69.08,552.05 73.3,551.58 77.51,546.46 81.73,546.94 85.95,546.82 90.17,546.55 94.38,546.34 98.6,546.62 102.82,546.89 107.04,548.31 111.26,550.53 115.47,550.29 119.69,548.96 123.91,546.47 128.13,549.87 132.34,546.87 136.56,546.49 140.78,546.37 145,546.9 149.22,545.13 153.43,539.9 157.65,544.15 161.87,543.66 166.09,544.7 170.3,541.48 174.52,543.49 178.74,542.74 182.96,544.39 187.18,544.06 191.39,543.52 195.61,542.52 199.83,541.05 204.05,540.86 208.26,539.56 212.48,541.39 216.7,539.29 220.92,540.42 225.14,541.5 229.35,541.57 233.57,544.44 237.79,544.28 242.01,545.52 246.22,541.17 250.44,542.91 254.66,542.74 258.88,542.6 263.1,544.34 267.31,543.91 271.53,544.28 275.75,543.04 279.97,543.86 284.18,542.65 288.4,543.94 292.62,543.38 296.84,542.24 301.06,542 305.27,542.7 309.49,544.32 313.71,540.31 317.93,543.7 322.14,542.14 326.36,542.36 330.58,542.19 334.8,541.02 339.02,540.82 343.23,543.01 347.45,544.03 351.67,543.68 355.89,543.71 360.1,544.17"/>
<polyline stroke="#1a8c1a" points="26.9,724.9 31.12,723.01 35.34,711.21 39.55,705.99 43.77,681.93 47.99,632.04 52.21,595.84 56.42,579.18 60.64,570.6 64.86,566.42 69.08,563.92 73.3,562.03 77.51,554.89 81.73,558.01 85.95,564.75 90.17,557.32 94.38,559.69 98.6,557.75 102.82,565.6 107.04,557.72 111.26,556.45 115.47,559.79 119.69,556.54 123.91,558.39 128.13,556.52 132.34,555.53 136.56,553.71 140.78,554.9 145,557.09 149.22,553.2 153.43,556.92 157.65,553.1 161.87,555.55 166.09,554.92 170.3,553.94 174.52,556.55 178.74,557.37 182.96,556.21 187.18,557.39 191.39,559.15 195.61,553.99 199.83,552.98 204.05,554.2 208.26,556.26 212.48,556 216.7,552.25 220.92,551.85 225.14,554.5 229.35,551.2 233.57,555.05 237.79,554.22 242.01,555.68 246.22,557 250.44,554.55 254.66,554.82 258.88,553.59 263.1,551.16 267.31,553.47 271.53,552.07 275.75,554.03 279.97,552.18 284.18,551.23 288.4,552.83 292.62,549.93 296.84,551.59 301.06,553.59 305.27,552.45 309.49,558.01 313.71,554.8 317.93,549.96 322.14,551.11 326.36,550.24 330.58,552.26 334.8,554.36 339.02,554.03 343.23,554.43 347.45,555.53 351.67,553.72 355.89,556.1 360.1,555.6"/>
<polyline stroke="#ff1a94" points="26.9,724.9 31.12,720.76 35.34,702.04 39.55,651.39 43.77,594.83 47.99,567.29 52.21,554.89 56.42,552.29 60.64,550.93 64.86,549.33 69.08,545.6 73.3,547.39 77.51,545.36 81.73,552.98 85.95,543.46 90.17,547.59 94.38,551.01 98.6,547.91 102.82,544.82 107.04,542.39 111.26,545.96 115.47,545.63 119.69,543.3 123.91,549.97 128.13,546.61 132.34,542.85 136.56,539.58 140.78,545.6 145,542.56 149.22,548.64 153.43,544.54 157.65,544.61 161.87,544.91 166.09,543.72 170.3,544.45 174.52,541.22 178.74,547.45 182.96,539.17 187.18,545.01 191.39,538.77 195.61,538.59 199.83,537.28 204.05,541.15 208.26,542.69 212.48,542.68 216.7,539.91 220.92,543.22 225.14,543.89 229.35,543.29 233.57,548.94 237.79,550.16 241.16,545.6"/>
<polyline stroke="#b22a2a" points="26.9,724.9 31.12,723.01 35.34,711.33 39.55,706.67 43.77,682.09 47.99,632.64 52.21,603.48 56.42,580.68 60.64,580.38 64.86,565.48 69.08,559.89 73.3,557.14 77.51,558.27 81.73,560.6 85.95,567.75 90.17,556.67 94.38,559.67 98.6,558.4 102.82,564.89 107.04,559.35 111.26,561.14 115.47,567.33 119.69,564.93 123.91,561.56 128.13,564.67 132.34,559.25 136.56,558.51 140.78,563.55 145,563.59 149.22,557.47 153.43,560.15 157.65,556.69 161.87,557.85 166.09,561.14 170.3,560.22 174.52,560.36 178.74,559.35 182.96,558.9 187.18,558.79 191.39,559.77 195.61,551.47 199.83,561.58 204.05,558.18 208.26,557.77 212.48,554.57 216.7,555.83 220.92,559.55 225.14,557.55 229.35,553.82 233.57,558.12 237.79,561.12 242.01,557.34 246.22,560.62 250.44,558.43 254.66,558.09 258.88,558.23 263.1,557.97 267.31,556.45 271.53,555.45 275.75,555.22 279.97,555.79 284.18,555.08 288.4,553.77 292.62,555.8 296.84,554.55 301.06,556.26 305.27,557.58 309.49,557.46 313.71,551.98 317.93,553.78 322.14,554.87 326.36,557.57 330.58,557.44 333.53,556.32"/>
<polyline stroke="#ff8c10" points="26.9,724.9 31.12,723.01 35.34,711.57 39.55,707.91 43.77,679.71 47.99,629.52 52.21,594.18 56.42,581.69 60.64,601.62 64.86,565.71 69.08,568.46 73.3,562.98 77.51,565.37 81.73,563.57 85.95,561.32 90.17,567.16 94.38,568.6 98.6,567.34 102.82,562.75 107.04,567.69 111.26,559.95 115.47,563.04 119.69,560.22 123.91,564.31 128.13,560.3 132.34,560.74 136.56,562.55 140.78,562.17 145,561.86 149.22,561.1 153.43,564.23 157.65,559.77 161.87,565.72 166.09,559.46 170.3,567.18 174.52,563.77 178.74,559.67 182.96,561.91 187.18,560.81 191.39,560.27 195.61,560.48 199.83,564.85 204.05,563.88 208.26,561.97 212.48,560.84 216.7,560.68 220.92,561.77 225.14,562.2 229.35,558.35 233.57,561.04 237.79,560.6 242.01,562.05 246.22,562.74 250.44,560.84 254.66,559.57 258.88,559.2 263.1,560.87 267.31,564.79 271.53,560.23 275.75,565.35 279.97,564.52 284.18,563.12 288.4,563.18 292.62,559.25 296.84,559.93 301.06,559.26 305.27,561.79 309.49,559.71 313.71,557.04 317.93,562.06 322.14,560.29 326.36,560.76 330.58,562.07 334.8,559.87 339.02,559.1 343.23,560.44 347.45,561.1 351.67,558.45 355.89,563.25 360.1,560.73 364.32,556.62 368.54,556.81 372.76,560.5 376.98,551.16 381.19,554.39 385.41,555.08 389.63,558.56 393.85,558.41 396.38,557.03"/>
<polyline stroke="#0000ff" points="26.9,724.9 31.12,724.9 35.34,724.9 39.55,724.9 43.77,722.11 47.99,722.76 52.21,715.61 56.42,709.9 60.64,696.77 64.86,693.28 69.08,670.61 73.3,653.47 77.51,639.1 81.73,625.49 85.95,617.75 90.17,612.75 94.38,612.17 98.6,606.32 102.82,602.19 107.04,599.06 111.26,605.01 115.47,602.06 119.69,598.12 123.91,594.18 128.13,595.61 132.34,597.03 136.56,596.26 140.78,595.48 145,594.7 149.22,593.93 153.43,594.13 157.65,595.82 161.87,597.5 166.09,599.18 170.3,596.68 174.52,594.18 178.74,594.44 182.96,594.71 187.18,594.97 191.39,595.24 195.61,595.5 199.83,594.96 204.05,593.87 208.26,592.79 212.48,592.41 216.7,593.65 220.92,594.89 225.14,593.46 229.35,592.03 233.57,591.83 237.79,591.63 242.01,591.42 246.22,592.75 250.44,592.25 254.66,589.53 258.88,591.32 263.1,592.75 267.31,594.18 271.53,595.61"/>
</g>
<path d="M26.9 724.9v-2.7M26.9 510.6v2.7M69.08 724.9v-2.7M69.08 510.6v2.7M111.26 724.9v-2.7M111.26 510.6v2.7M153.43 724.9v-2.7M153.43 510.6v2.7M195.61 724.9v-2.7M195.61 510.6v2.7M237.79 724.9v-2.7M237.79 510.6v2.7M279.97 724.9v-2.7M279.97 510.6v2.7M322.14 724.9v-2.7M322.14 510.6v2.7M364.32 724.9v-2.7M364.32 510.6v2.7M406.5 724.9v-2.7M406.5 510.6v2.7M26.9 724.9h2.7M406.5 724.9h-2.7M26.9 689.18h2.7M406.5 689.18h-2.7M26.9 653.47h2.7M406.5 653.47h-2.7M26.9 617.75h2.7M406.5 617.75h-2.7M26.9 582.03h2.7M406.5 582.03h-2.7M26.9 546.32h2.7M406.5 546.32h-2.7M26.9 510.6h2.7M406.5 510.6h-2.7" stroke="#000" stroke-width="0.55" fill="none"/>
<rect x="26.9" y="510.6" width="379.6" height="214.3" fill="none" stroke="#000" stroke-width="0.8"/>
<g font-size="5.9" fill="#000" stroke="#000" stroke-width="0.2"><text x="26.9" y="732" text-anchor="middle">0</text><text x="69.08" y="732" text-anchor="middle">10</text><text x="111.26" y="732" text-anchor="middle">20</text><text x="153.43" y="732" text-anchor="middle">30</text><text x="195.61" y="732" text-anchor="middle">40</text><text x="237.79" y="732" text-anchor="middle">50</text><text x="279.97" y="732" text-anchor="middle">60</text><text x="322.14" y="732" text-anchor="middle">70</text><text x="364.32" y="732" text-anchor="middle">80</text><text x="406.5" y="732" text-anchor="middle">90</text><text x="23.9" y="726.6" text-anchor="end">0</text><text x="23.9" y="690.88" text-anchor="end">5</text><text x="23.9" y="655.17" text-anchor="end">10</text><text x="23.9" y="619.45" text-anchor="end">15</text><text x="23.9" y="583.73" text-anchor="end">20</text><text x="23.9" y="548.02" text-anchor="end">25</text><text x="23.9" y="512.3" text-anchor="end">30</text></g>
<text x="216.7" y="508" text-anchor="middle" font-size="7" font-weight="bold">(e) Average word frequency rank(de)</text>
<text x="216.7" y="742" text-anchor="middle" font-size="8.07">Checkpoints (1000 batches)</text>
<text transform="translate(12.8 617.75) rotate(-90)" text-anchor="middle" font-size="8">Validation BLEU</text>
<g><path d="M350.5 664.2H360.7" stroke="#8a8a8a" stroke-width="0.85"/><text x="368.6" y="666.9" font-size="6.95">baseline</text><path d="M350.5 674.32H360.7" stroke="#1a8c1a" stroke-width="0.85"/><text x="368.6" y="677.02" font-size="6.95">default</text><path d="M350.5 684.44H360.7" stroke="#ff1a94" stroke-width="0.85"/><text x="368.6" y="687.14" font-size="6.95">reverse</text><path d="M350.5 694.56H360.7" stroke="#b22a2a" stroke-width="0.85"/><text x="368.6" y="697.26" font-size="6.95">boost</text><path d="M350.5 704.68H360.7" stroke="#ff8c10" stroke-width="0.85"/><text x="368.6" y="707.38" font-size="6.95">reduce</text><path d="M350.5 714.8H360.7" stroke="#0000ff" stroke-width="0.85"/><text x="368.6" y="717.5" font-size="6.95">noshuffle</text></g>
<clipPath id="cf"><rect x="438.9" y="509.6" width="379.6" height="215.3"/></clipPath>
<g clip-path="url(#cf)" fill="none" stroke-width="0.85" stroke-linejoin="round" stroke-linecap="round">
<polyline stroke="#8a8a8a" points="438.9,724.9 441.27,724.9 443.64,721.92 446.02,694.76 448.39,619.82 450.76,591.53 453.13,573.36 455.51,565.2 457.88,557.32 460.25,549.97 462.62,552.11 465,549.53 467.37,546.32 469.74,546.32 472.12,546.32 474.49,546.45 476.86,546.91 479.23,547.37 481.6,547.82 483.98,548.28 486.35,549.15 488.72,547.47 491.09,548.13 493.47,546.11 495.84,547.51 498.21,546.56 500.58,548.85 502.96,548.52 505.33,545.55 507.7,546.76 510.07,544.18 512.45,541.38 514.82,541.01 517.19,543.22 519.56,544.43 521.94,543.18 524.31,547.81 526.68,545.13 529.05,541.62 531.43,543.42 533.8,544.66 536.17,547.28 538.54,546.07 540.92,545.44 543.29,544.4 545.66,543.63 548.03,544.62 550.41,542.83 552.78,545.42 555.15,547.75 557.52,541.58 559.9,548.02 562.27,545.53 564.64,542.16 567.01,544.99 569.39,545.23 571.76,544.37 574.13,540.59 576.5,542.78 578.88,545.42 581.25,545.02 583.62,545.11 586,547.15 588.37,543.84 590.74,544.94 593.11,544 595.49,544.27 597.86,545.18 600.23,542.18 602.6,540.34 604.98,544.38 607.35,540.65 609.72,546.6 612.09,543.95 614.46,543.63 616.84,543.85 619.21,546.01 621.58,541.5 623.95,542.91 626.33,543.82"/>
<polyline stroke="#1a8c1a" points="438.9,724.9 441.27,724.9 443.64,724.9 446.02,724.9 448.39,724.9 450.76,712.66 453.13,678.97 455.51,603.11 457.88,573.61 460.25,568 462.62,558.67 465,547.75 467.37,543.46 469.74,543.25 472.12,543.04 474.49,542.83 476.86,543.38 479.23,544.43 481.6,545.48 483.98,545.97 486.35,544.23 488.72,542.49 491.09,540.76 493.47,540.42 495.84,541.49 498.21,542.11 500.58,542.27 502.96,542.43 505.33,542.59 507.7,542.75 510.07,547.66 512.45,548.59 514.82,543.54 517.19,542.06 519.56,543.35 521.94,542.75 524.31,539.22 526.68,545.59 529.05,539.8 531.43,545.85 533.8,541.43 536.17,543.54 538.54,537.86 540.92,541.49 543.29,540.57 545.66,541.65 548.03,540.99 550.41,540.64 552.78,544.12 555.15,544.95 557.52,543.19 559.9,541.05 562.27,541.8 564.64,543.41 567.01,541.2 569.39,544.21 571.76,538.73 574.13,542.59 576.5,539.1 578.88,543.06 581.25,543.17 583.62,546.58 586,539.68 588.37,538.9 590.74,542.1 593.11,538.65 595.49,539.44 597.86,544.16 600.23,543.55 602.6,538.28 604.74,540.6"/>
<polyline stroke="#ff1a94" points="438.9,724.9 441.27,723.82 443.64,716.64 446.02,701.28 448.39,676.35 450.76,634.48 453.13,601.01 455.51,583.96 457.88,570.75 460.25,565.75 462.62,559.68 465,552.03 467.37,551.61 469.74,550.89 472.12,549.46 474.49,548.67 476.86,549.39 479.23,550.21 481.6,551.26 483.98,552.32 486.35,551.61 488.72,549.72 491.09,547.83 493.47,546.58 495.84,547.9 498.21,549.23 500.58,550.55 502.96,551.87 505.33,553.2 507.7,551.13 510.07,548.22 512.45,545.78 514.82,547.57 517.19,549.35 519.56,554.39 521.94,547.3 524.31,549.48 526.68,550.79 529.05,549.31 531.43,551.78 533.8,548.45 536.17,552.49 538.54,552.06 540.92,548.14 543.29,548.8 545.66,550.31 548.03,546.82 550.41,545.96 552.78,548.48 555.15,545.69 557.52,548.11 559.9,547.87 562.27,547.34 564.64,545.53 567.01,546.1 569.39,546.81 571.76,546.25 574.13,548.49 576.5,544.67 578.88,545.35 581.25,547.23 583.62,546.14 586,547.3 588.37,551.39 590.74,546.36 593.11,551.12 595.49,549.36 597.86,548.93 600.23,549.45 602.6,544.5 604.98,542.47 607.35,547.39"/>
<polyline stroke="#b22a2a" points="438.9,724.9 441.27,724.9 443.64,724.9 446.02,724.9 448.39,724.9 450.76,724.9 453.13,723.27 455.51,711.76 457.88,707.92 460.25,704.93 462.62,705.61 465,698.47 467.37,680.61 469.74,675.61 472.12,640.89 474.49,634.54 476.86,622.04 479.23,619.43 481.6,610.76 483.98,607.96 486.35,591.03 488.72,591.46 491.09,586.75 493.47,588.89 495.84,589.58 498.21,584.48 500.58,586.32 502.96,583.89 505.33,579.96 507.7,580.18 510.07,580.98 512.45,577.62 514.82,576.42 517.19,578.46 519.56,587.75 521.94,582.25 524.31,578.15 526.68,583.94 529.05,581.91 531.43,574.86 533.8,582.68 536.17,579.37 538.54,580.41 540.92,579.84 543.29,582.15 545.66,575.63 548.03,576.66 550.41,574.32 552.78,580.6 555.15,578.02 557.52,578.9 559.9,579.74 562.27,580.8 564.64,582.92 567.01,580.78 569.39,581.74 571.76,582.28 574.13,584.48 576.5,582.69 578.88,580.26 581.25,583.75 583.62,579.52 586,581.17 588.37,580.62 590.74,578.53 593.11,577.25 595.49,578.54 597.86,577.89 600.23,580.07 602.6,578.97 604.98,580.22 607.35,578.73 609.72,571.87 612.09,571.93 614.46,577.84 616.84,573.51 619.21,575.36 621.58,575.46 623.95,572.19 626.33,572.36 628.7,575.5 631.07,573.24 633.44,572.91 635.82,570.21 638.19,574.81 640.56,569.97 642.93,572.9 645.31,572.55 647.68,571.55 650.05,567.72 652.42,570.33 654.8,573.2 657.17,570.81 659.54,573.8 661.91,575.08 664.29,577.53 666.66,572.4 669.03,576.81 671.4,571.19 673.78,572.72 676.15,574.64 678.52,574.31 680.89,576.17 683.27,575.35 685.64,578.55 688.01,575.22 690.38,578.46 692.76,573.28 695.13,574.69 697.5,576.12 699.88,574.57 702.25,572.18 704.62,575.81 706.99,573.96 709.37,575.52 711.74,574.1 714.11,574.13 716.48,570.18 718.86,573.89 721.23,570.22 723.6,574.37 725.97,571.13 728.35,573.85 730.72,576.26 733.09,570.46 735.46,570.11 737.84,570.63 740.21,571.78 742.58,568.18 744.95,574.3 747.33,573.3 749.7,571.59 752.07,570.72 754.44,574.56 756.82,575.16 759.19,568.95 761.56,571.81 763.93,571.98 766.31,569.54 768.68,571.61 771.05,568.95 773.42,569.82 775.79,572.02 778.17,569.05 780.54,573.36 782.91,571.66 785.28,574.89"/>
<polyline stroke="#ff8c10" points="438.9,724.9 441.27,724.9 443.64,724.9 446.02,724.9 448.39,722.67 450.76,700.4 453.13,677.15 455.51,652.6 457.88,629.64 460.25,610.55 462.62,593.39 465,589.6 467.37,584.53 469.74,579.53 472.12,575.96 474.49,574.38 476.86,577.44 479.23,581.15 481.6,583.1 483.98,577.75 486.35,574.69 488.72,574.69 491.09,580.81 493.47,577.18 495.84,571.1 498.21,568.83 500.58,567.51 502.96,566.98 505.33,573.57 507.7,570.86 510.07,567.13 512.45,575.3 514.82,574.22 517.19,569.18 519.56,576.32 521.94,572.03 524.31,575.01 526.68,573.97 529.05,575.1 531.43,573.82 533.8,568.41 536.17,569.38 538.54,577.72 540.92,571.72 543.29,571.91 545.66,577.64 548.03,571.52 550.41,576.15 552.78,565.27 555.15,573.29 557.52,575.28 559.9,571.01 562.27,573.9 564.64,573.76 567.01,574.07 569.39,572.78 571.76,576.96 574.13,574.05 576.5,582.6 578.88,568.62 581.25,569.91 583.15,574.18"/>
<polyline stroke="#0000ff" points="438.9,724.9 441.27,724.9 443.64,724.9 446.02,724.9 448.39,724.9 450.76,724.9 453.13,719.47 455.51,666.02 457.88,620.1 460.25,589.01 462.62,567.85 465,552.03 467.37,548.82 469.74,545.6 472.12,544.68 474.49,543.76 476.86,542.84 479.23,546.6 481.6,557.35 483.98,548.13 486.35,546.51 488.72,544.89 491.09,547.27 493.47,548.29 495.84,543.87 498.21,540.15 500.58,542.8 502.96,545.44 505.33,546.4 507.7,544.81 510.07,543.22 512.45,546.18 514.82,550.26 517.19,546.82 519.56,543.38 521.94,541.37 524.31,537.97 526.68,544.36 529.05,543.32 531.43,543.81 533.8,541.19 536.17,538.3 538.54,549.72 540.92,539.07 543.29,540.99 545.66,542.03 548.03,535.3 550.41,539.92 552.78,539.67 555.15,538.97 557.52,542.96 559.9,542.6 562.27,542.87 564.64,543.89 567.01,542.44 569.39,543.85 571.76,542.94 574.13,542.39 576.5,544.47 578.88,543.55 581.25,542.61 583.62,544.75 586,538.43 588.37,541.79 590.74,542.38 593.11,543.74 595.49,546.33 597.86,539.98 600.23,546.74 602.6,542.22 604.98,546.57 607.35,542.05 609.72,541.61 612.09,543.6 613.75,544.89"/>
</g>
<path d="M438.9 724.9v-2.7M438.9 510.6v2.7M486.35 724.9v-2.7M486.35 510.6v2.7M533.8 724.9v-2.7M533.8 510.6v2.7M581.25 724.9v-2.7M581.25 510.6v2.7M628.7 724.9v-2.7M628.7 510.6v2.7M676.15 724.9v-2.7M676.15 510.6v2.7M723.6 724.9v-2.7M723.6 510.6v2.7M771.05 724.9v-2.7M771.05 510.6v2.7M818.5 724.9v-2.7M818.5 510.6v2.7M438.9 724.9h2.7M818.5 724.9h-2.7M438.9 689.18h2.7M818.5 689.18h-2.7M438.9 653.47h2.7M818.5 653.47h-2.7M438.9 617.75h2.7M818.5 617.75h-2.7M438.9 582.03h2.7M818.5 582.03h-2.7M438.9 546.32h2.7M818.5 546.32h-2.7M438.9 510.6h2.7M818.5 510.6h-2.7" stroke="#000" stroke-width="0.55" fill="none"/>
<rect x="438.9" y="510.6" width="379.6" height="214.3" fill="none" stroke="#000" stroke-width="0.8"/>
<g font-size="5.9" fill="#000" stroke="#000" stroke-width="0.2"><text x="438.9" y="732" text-anchor="middle">0</text><text x="486.35" y="732" text-anchor="middle">20</text><text x="533.8" y="732" text-anchor="middle">40</text><text x="581.25" y="732" text-anchor="middle">60</text><text x="628.7" y="732" text-anchor="middle">80</text><text x="676.15" y="732" text-anchor="middle">100</text><text x="723.6" y="732" text-anchor="middle">120</text><text x="771.05" y="732" text-anchor="middle">140</text><text x="818.5" y="732" text-anchor="middle">160</text><text x="435.9" y="726.6" text-anchor="end">0</text><text x="435.9" y="690.88" text-anchor="end">5</text><text x="435.9" y="655.17" text-anchor="end">10</text><text x="435.9" y="619.45" text-anchor="end">15</text><text x="435.9" y="583.73" text-anchor="end">20</text><text x="435.9" y="548.02" text-anchor="end">25</text><text x="435.9" y="512.3" text-anchor="end">30</text></g>
<text x="628.7" y="508" text-anchor="middle" font-size="7" font-weight="bold">(f) Average word frequency rank(en)</text>
<text x="628.7" y="742" text-anchor="middle" font-size="8.07">Checkpoints (1000 batches)</text>
<text transform="translate(424.8 617.75) rotate(-90)" text-anchor="middle" font-size="8">Validation BLEU</text>
<g><path d="M762.5 664.2H772.7" stroke="#8a8a8a" stroke-width="0.85"/><text x="780.6" y="666.9" font-size="6.95">baseline</text><path d="M762.5 674.32H772.7" stroke="#1a8c1a" stroke-width="0.85"/><text x="780.6" y="677.02" font-size="6.95">default</text><path d="M762.5 684.44H772.7" stroke="#ff1a94" stroke-width="0.85"/><text x="780.6" y="687.14" font-size="6.95">reverse</text><path d="M762.5 694.56H772.7" stroke="#b22a2a" stroke-width="0.85"/><text x="780.6" y="697.26" font-size="6.95">boost</text><path d="M762.5 704.68H772.7" stroke="#ff8c10" stroke-width="0.85"/><text x="780.6" y="707.38" font-size="6.95">reduce</text><path d="M762.5 714.8H772.7" stroke="#0000ff" stroke-width="0.85"/><text x="780.6" y="717.5" font-size="6.95">noshuffle</text></g>
<clipPath id="cg"><rect x="26.9" y="757.7" width="379.6" height="214.9"/></clipPath>
<g clip-path="url(#cg)" fill="none" stroke-width="0.85" stroke-linejoin="round" stroke-linecap="round">
<polyline stroke="#8a8a8a" points="26.9,972.6 31.12,972.6 35.34,958.34 39.55,919.25 43.77,863.66 47.99,838.93 52.21,823.53 56.42,812.56 60.64,805.72 64.86,799.34 69.08,796.96 73.3,797.99 77.51,799.87 81.73,797.69 85.95,795.06 90.17,794.83 94.38,794.59 98.6,794.35 102.82,794.83 107.04,795.3 111.26,795.78 115.47,796.4 119.69,797.62 123.91,796.14 128.13,794.33 132.34,795.87 136.56,793.88 140.78,792.68 145,796.36 149.22,794.1 153.43,795.89 157.65,794.78 161.87,791.55 166.09,795.19 170.3,796.21 174.52,796.68 178.74,792.5 182.96,793.48 187.18,793.55 191.39,791 195.61,795.57 199.83,792.7 204.05,791.42 208.26,792.06 212.48,789.69 216.7,791.59 220.92,790.88 225.14,789.45 229.35,790.86 233.57,787.38 237.79,788.14 242.01,788.06 246.22,792.53 250.44,791.06 254.66,790.53 258.88,789.41 263.1,795.63 267.31,792.7 271.53,789.35 275.75,790.13 279.97,789.94 284.18,791.5 288.4,789.7 292.62,791.51 296.84,793.03 301.06,790.23 305.27,793.89 309.49,792.01 313.71,791.61 317.93,789.87 322.14,790.57 326.36,791.79 330.58,790.6 334.8,789.98 339.02,788.8 343.23,789.98 347.45,789.28 351.67,793.1 355.89,792.23 360.1,791.5"/>
<polyline stroke="#1a8c1a" points="26.9,972.6 31.12,972.6 35.34,957.15 39.55,914.91 43.77,861.07 47.99,838.93 52.21,823.53 56.42,812.56 60.64,805.72 64.86,799.34 69.08,796.37 73.3,795.48 77.51,795.1 81.73,795.06 85.95,795.06 90.17,793.51 94.38,791.96 98.6,792.83 102.82,794.73 107.04,796.6 111.26,797.77 115.47,796.6 119.69,798.25 123.91,801.04 128.13,794.57 132.34,791.76 136.56,798.43 140.78,796.14 145,792.73 149.22,793.41 153.43,794.54 157.65,791.32 161.87,792.61 166.09,795.37 170.3,792.96 174.52,787.96 178.74,793.99 182.96,788.12 187.18,789.96 191.39,787.34 195.61,787.36 199.83,792.39 204.05,790.82 208.26,791.07 212.48,786.45 216.7,792.14 220.92,786.83 225.14,785.25 229.35,790.02 233.57,790.18 237.79,787.76 242.01,789.19 246.22,792.01 250.44,795.34 254.66,796.88 258.88,794.93 263.1,798.43 267.31,792.3 271.53,787.45 275.75,788.1 279.97,788.93 284.18,792.64 288.4,793.73 292.62,792.56 296.84,788.65 301.06,792.52 305.27,792.63 309.49,794.21 313.71,788.03 317.93,791.06 322.14,792.93 326.36,790.81 330.58,789.02 334.8,788.65 339.02,789.93 343.23,792.73 347.45,790.67 351.67,788.05 355.89,788.45 360.1,789.42 364.32,789.77 368.54,792.21"/>
<polyline stroke="#ff1a94" points="26.9,972.6 31.12,972.6 35.34,963.39 39.55,953.7 43.77,927.87 47.99,863.51 52.21,829.05 56.42,816.99 60.64,808.66 64.86,802 69.08,798.63 73.3,796.82 77.51,794.76 81.73,798.83 85.95,802.91 90.17,797.4 94.38,801.29 98.6,799.37 102.82,797.45 107.04,795.89 111.26,797.38 115.47,804.18 119.69,800.97 123.91,794.97 128.13,792.52 132.34,797.16 136.56,805.52 140.78,804.69 145,806.7 149.22,815.63 153.43,811.9 157.65,794.2 161.87,792.68 166.09,801.98 170.3,796.56 174.52,798.21 178.74,796.86 182.96,801.08 187.18,796.27 191.39,798.77 195.61,797.45 199.83,798.86 204.05,797.25 208.26,798.76 212.48,801.82 216.7,803.82 220.92,802.91"/>
<polyline stroke="#b22a2a" points="26.9,972.6 31.12,972.6 35.34,963.94 39.55,955.49 43.77,948.82 47.99,945.51 52.21,928.39 56.42,860.18 60.64,834.02 64.86,823.4 69.08,807.9 73.3,802.55 77.51,806.11 81.73,803.62 85.95,796.49 90.17,795.58 94.38,794.61 98.6,793.64 102.82,796.61 107.04,796.44 111.26,797.56 115.47,802.87 119.69,800.96 123.91,803.67 128.13,802.71 132.34,799.17 136.56,799.07 140.78,802.01 145,797.74 149.22,796.58 153.43,800.9 157.65,798.35 161.87,799.23 166.09,796.19 170.3,799.52 174.52,798.25 178.74,795.19 182.96,799.17 187.18,798.13 191.39,799.27 195.61,796.43 199.83,796.1 204.05,799.67 208.26,800.75 212.48,797.12 216.7,798.49 220.92,797.73 225.14,794.12 229.35,790.23 233.57,795.25 237.79,789.56 242.01,801.26 246.22,795.52 250.44,799.33 254.66,797.92"/>
<polyline stroke="#ff8c10" points="26.9,972.6 31.12,972.6 35.34,972.6 39.55,972.6 43.77,972.6 47.99,972.6 52.21,972.6 56.42,957.44 60.64,898.15 64.86,857.56 69.08,846.4 73.3,820.09 77.51,816.52 81.73,833.57 85.95,808.29 90.17,812.21 94.38,815.03 98.6,807.9 102.82,809.4 107.04,810.29 111.26,805.71 115.47,807.86 119.69,807.68 123.91,808.79 128.13,806.79 132.34,811.84 136.56,815.33 140.78,809 145,810.07 149.22,804.53 153.43,803.87 157.65,807.56 161.87,807.63 166.09,812.22 170.3,813.38 174.52,808.8 178.74,810.81 182.96,808.53 187.18,807.07 191.39,800.44 195.61,799.21 199.83,801.58 204.05,807.8 208.26,804.37 212.48,803.84 216.7,807.53 220.92,804.64 225.14,806 229.35,803.07 233.57,808.42 237.79,805.35 242.01,803.87 246.22,799.49 250.44,798.87 254.66,803.68 258.88,805.78 263.1,805.96 267.31,802.79 271.53,810.04"/>
<polyline stroke="#0000ff" points="26.9,972.6 31.12,972.6 35.34,964.17 39.55,955.3 43.77,903.56 47.99,838.56 52.21,822.16 56.42,809 60.64,802.62 64.86,797.3 69.08,797.92 73.3,798.75 77.51,798.69 81.73,796.52 85.95,794.35 90.17,796.94 94.38,797.2 98.6,797.2 102.82,796.63 107.04,796.43 111.26,802.97 115.47,795.53 119.69,798.2 123.91,799.09 128.13,798.22 132.34,797.01 136.56,797.51 140.78,797.52 145,796.86 149.22,799.37 153.43,794.61 157.65,796.47 161.87,797.51 166.09,796.3 170.3,796.69 174.52,795.73 178.74,793.45 182.96,796.26 187.18,793.35 191.39,795.41 195.61,794.58 199.83,795.61 204.05,795.78 208.26,796.65 212.48,795.17 216.7,796.09 220.92,797.66 225.14,806.14 229.35,792.54 233.57,793.94 237.79,793.85 242.01,796.74 246.22,801.35 250.44,794.86 254.66,799.26 258.88,796.98 263.1,793.85 267.31,799 271.53,797.44 275.75,794.18 279.97,789.67 284.18,799.47 288.4,797.59 292.62,790.09 296.84,790.39 301.06,789.9 305.27,793.78 309.49,794.43 313.71,795.57 317.93,794.16 322.14,797.7 326.36,797.2"/>
</g>
<path d="M26.9 972.6v-2.7M26.9 758.7v2.7M69.08 972.6v-2.7M69.08 758.7v2.7M111.26 972.6v-2.7M111.26 758.7v2.7M153.43 972.6v-2.7M153.43 758.7v2.7M195.61 972.6v-2.7M195.61 758.7v2.7M237.79 972.6v-2.7M237.79 758.7v2.7M279.97 972.6v-2.7M279.97 758.7v2.7M322.14 972.6v-2.7M322.14 758.7v2.7M364.32 972.6v-2.7M364.32 758.7v2.7M406.5 972.6v-2.7M406.5 758.7v2.7M26.9 972.6h2.7M406.5 972.6h-2.7M26.9 936.95h2.7M406.5 936.95h-2.7M26.9 901.3h2.7M406.5 901.3h-2.7M26.9 865.65h2.7M406.5 865.65h-2.7M26.9 830h2.7M406.5 830h-2.7M26.9 794.35h2.7M406.5 794.35h-2.7M26.9 758.7h2.7M406.5 758.7h-2.7" stroke="#000" stroke-width="0.55" fill="none"/>
<rect x="26.9" y="758.7" width="379.6" height="213.9" fill="none" stroke="#000" stroke-width="0.8"/>
<g font-size="5.9" fill="#000" stroke="#000" stroke-width="0.2"><text x="26.9" y="980" text-anchor="middle">0</text><text x="69.08" y="980" text-anchor="middle">10</text><text x="111.26" y="980" text-anchor="middle">20</text><text x="153.43" y="980" text-anchor="middle">30</text><text x="195.61" y="980" text-anchor="middle">40</text><text x="237.79" y="980" text-anchor="middle">50</text><text x="279.97" y="980" text-anchor="middle">60</text><text x="322.14" y="980" text-anchor="middle">70</text><text x="364.32" y="980" text-anchor="middle">80</text><text x="406.5" y="980" text-anchor="middle">90</text><text x="23.9" y="974.3" text-anchor="end">0</text><text x="23.9" y="938.65" text-anchor="end">5</text><text x="23.9" y="903" text-anchor="end">10</text><text x="23.9" y="867.35" text-anchor="end">15</text><text x="23.9" y="831.7" text-anchor="end">20</text><text x="23.9" y="796.05" text-anchor="end">25</text><text x="23.9" y="760.4" text-anchor="end">30</text></g>
<text x="216.7" y="756" text-anchor="middle" font-size="7" font-weight="bold">(g) Average word frequency rank(deen)</text>
<text x="216.7" y="990" text-anchor="middle" font-size="8.07">Checkpoints (1000 batches)</text>
<text transform="translate(12.8 865.65) rotate(-90)" text-anchor="middle" font-size="8">Validation BLEU</text>
<g><path d="M350.5 911.9H360.7" stroke="#8a8a8a" stroke-width="0.85"/><text x="368.6" y="914.6" font-size="6.95">baseline</text><path d="M350.5 922.02H360.7" stroke="#1a8c1a" stroke-width="0.85"/><text x="368.6" y="924.72" font-size="6.95">default</text><path d="M350.5 932.14H360.7" stroke="#ff1a94" stroke-width="0.85"/><text x="368.6" y="934.84" font-size="6.95">reverse</text><path d="M350.5 942.26H360.7" stroke="#b22a2a" stroke-width="0.85"/><text x="368.6" y="944.96" font-size="6.95">boost</text><path d="M350.5 952.38H360.7" stroke="#ff8c10" stroke-width="0.85"/><text x="368.6" y="955.08" font-size="6.95">reduce</text><path d="M350.5 962.5H360.7" stroke="#0000ff" stroke-width="0.85"/><text x="368.6" y="965.2" font-size="6.95">noshuffle</text></g>
<clipPath id="ch"><rect x="438.9" y="757.7" width="379.6" height="214.9"/></clipPath>
<g clip-path="url(#ch)" fill="none" stroke-width="0.85" stroke-linejoin="round" stroke-linecap="round">
<polyline stroke="#8a8a8a" points="438.9,972.6 441.61,972.6 444.32,957.07 447.03,918.25 449.75,883.95 452.46,852.66 455.17,832.71 457.88,816 460.59,806.96 463.3,797.92 466.01,799.5 468.73,799.7 471.44,794.35 474.15,794.35 476.86,794.35 479.57,794.47 482.28,794.77 484.99,795.06 487.71,795.35 490.42,795.63 493.13,795.27 495.84,794.56 498.55,796.7 501.26,798.43 503.97,796.45 506.69,795.06 509.4,795.06 512.11,795.06 514.82,794.27 517.53,793.48 520.24,792.69 522.95,791.89 525.67,791.1 528.38,792.79 531.09,792.73 533.8,790.99 536.51,793.55 539.22,791.27 541.93,791.47 544.65,793.23 547.36,794.64 550.07,791.23 552.78,789.74 555.49,791.58 558.2,794.38 560.91,792.44 563.63,793.74 566.34,789.47 569.05,792.33 571.76,791.65 574.47,791.06 577.18,790.34 579.89,791.82 582.61,790.83 585.32,791.05 588.03,792.98 590.74,792.42 593.45,790.57 596.16,792.88 598.87,792.06 601.59,792.48 604.3,790.47 607.01,791.41 609.72,790.56 612.43,793.42 615.14,791.6 617.85,792.57 620.57,792.16 623.28,791.42 625.99,791.52 628.7,789.68 631.41,790.72 634.12,790.79 636.83,789.27 639.55,789.54 642.26,790.17 644.97,789.93 647.68,791.45 650.12,790.79"/>
<polyline stroke="#1a8c1a" points="438.9,972.6 441.61,966.68 444.32,944.14 447.03,927.03 449.75,919.84 452.46,920.99 455.17,913 457.88,911.52 460.59,914.18 463.3,905.58 466.01,901.12 468.73,906.47 471.44,912 474.15,906.81 476.86,912 479.57,903.44 482.28,911.22 484.99,912 487.71,916.53 490.42,908 493.13,907.72 495.84,909.5 498.55,905.93 501.26,903.53 503.97,903.2 506.69,909.14 509.4,907.62 512.11,905.13 514.82,902.01 517.53,905.58 520.24,909.14 522.95,908.43 525.67,904.93 528.38,905.58 531.09,903.15 533.8,902.94 536.51,904.61 539.22,902.01 541.93,907.06 544.65,907.66 547.36,906.58 550.07,904.98 552.78,902.01 555.49,903.2 558.2,905.93 560.91,908.63 563.63,909.65 566.34,910.32 569.05,907.82 571.49,905.58"/>
<polyline stroke="#ff1a94" points="438.9,972.6 441.61,972.6 444.32,972.6 447.03,972.6 449.75,972.6 452.46,972.6 455.17,972.6 457.88,972.6 460.59,972.6 463.3,972.6 466.01,972.6 468.73,972.6 471.44,972.36 474.15,960.21 476.86,939.8 479.57,865.91 482.28,837.13 484.99,816.45 487.71,808.13 490.42,801.91 493.13,797.54 495.84,796.28 498.55,795.78 501.26,795.78 503.97,793.68 506.69,793.64 509.4,797.56 512.11,793.99 514.82,791.32 517.53,790.95 520.24,792.63 522.95,792.37 525.67,795.03 528.38,791.64 531.09,792.16 533.8,793.63 536.51,791.3 539.22,790.63 541.93,793.46 544.65,793.77 547.36,793.69 550.07,793 552.78,792 555.49,790.51 558.2,792.61 560.91,793.57 563.63,791.91 566.34,790.2 569.05,792.39 571.76,790.97 574.47,792.2 577.18,790.69 579.89,793.13 582.61,791.07 585.32,794.06 588.03,793.44 590.74,790.84 593.45,792.77 596.16,789.76 598.87,793.23 601.59,793.12 604.3,790.89 607.01,792.54 609.72,789.89 612.43,789.22 615.14,791.39 617.85,791.5 620.57,790.82 623.28,791.09 625.99,789.24 628.7,791.08 631.41,793.27 634.12,790.75 636.83,792 639.55,790.23 642.26,792.46 644.97,791.4 647.68,791.61 650.39,794.28 653.1,791.99 655.81,794.92 658.53,792 661.24,792.14 663.95,790.75 666.66,789.94 669.37,790.52 672.08,788.85 674.79,792.64 677.51,790.18 680.22,790.4 682.93,788.96 685.64,790.19 688.35,788.19 691.06,791.68 693.77,790.2 696.49,789.45 699.2,790.2 701.91,790.9 704.62,790.43 707.33,790.11 710.04,791.79 712.75,788.46 715.47,788.9 718.18,790.94 720.89,790.55 723.6,789.1 726.31,790.82 729.02,791.28 731.73,790.96 734.45,792.4 737.16,790.88 739.87,793.58 742.58,794.13 745.29,789.62 748,792.73 750.71,790.55 753.43,790.1 756.14,788.42 758.85,792.27 761.56,791.83 764.27,790.69 766.98,787.59 769.69,791.07 772.41,791.1 775.12,789.82 777.83,790.59 780.27,790.07"/>
<polyline stroke="#b22a2a" points="438.9,972.6 441.61,972.6 444.32,969.84 447.03,930.36 449.75,890.61 452.46,850.55 455.17,823.08 457.88,819.76 460.59,805.31 463.3,804.33 466.01,797.84 468.73,799.2 471.44,805.24 474.15,796.42 476.86,795.74 479.57,795.06 482.28,797.61 484.99,799.1 487.71,799.9 490.42,798.47 493.13,796.49 495.84,796.85 498.55,797.2 501.26,796.52 503.97,795.84 506.69,796.85 509.4,797.86 512.11,797.26 514.82,796.67 517.53,795.9 520.24,795.06 522.95,795.34 525.67,796.05 528.38,793.64 531.09,797.91 533.8,796.22 536.51,796.63 539.22,797.27 541.93,795.55 544.65,795.15 547.36,799.05 550.07,794.01 552.78,790.57 555.49,797.56 558.2,794.18 560.91,792.89 563.63,795.94 566.34,797.54 569.05,793.7 571.76,798.45 574.47,794.01 577.18,797.14 579.89,797.36 582.61,794.07 585.32,795.31 588.03,794.6 590.74,797.21 593.45,796.74 596.16,795.69 598.87,793.45 601.59,796.14 604.3,796.45 607.01,793.88 609.72,798.45 612.43,796.47 615.14,793.76 617.85,795.3 620.57,799.58 623.28,794.74 625.99,789.53 628.7,797.92 631.41,794.04 634.12,793.39 636.83,792.61 639.55,791.26 642.26,790.92 644.97,793.47 647.68,796.1 650.39,794.93 653.1,795.54 655.81,798.13 658.53,793.9 661.24,796.9 663.95,797.71 666.66,794.52 669.37,796.28 672.08,796.12 674.79,793.72 677.23,794.35"/>
<polyline stroke="#ff8c10" points="438.9,972.6 441.61,972.6 444.32,971.51 447.03,957.15 449.75,947.64 452.46,912.59 455.17,881.48 457.88,855.84 460.59,836.15 463.3,832.38 466.01,822.71 468.73,816.22 471.44,814.31 474.15,810.75 476.86,813.2 479.57,810.39 482.28,808.27 484.99,807.59 487.71,807.94 490.42,809.85 493.13,807.18 495.84,804.63 498.55,807.56 501.26,809.12 503.97,808.61 506.69,815.03 509.4,807.9 512.11,802.86 514.82,806.19 517.53,807.04 520.24,806.84 522.95,806.63 525.67,805.95 528.38,799.56 531.09,803.38 533.8,809.86 536.51,805.5 539.22,810.94 541.93,809.92 544.65,809.68 547.36,803.25 550.07,801.78 552.78,802.68 555.49,805.92 558.2,806.95 560.91,806.88 563.63,806.04 566.34,809.88 569.05,800.16 571.76,807.17 574.47,805.99 577.18,801.89 579.89,804.26 582.61,799.11 585.32,807.41 588.03,805.44 590.74,805.42 593.45,803.79 596.16,799.88 598.87,802.31 601.59,801.95 604.3,807.23 607.01,798.45 609.72,807.15 612.43,805.66 615.14,806.4 617.85,804.5 620.57,803.98 623.28,800.08 625.99,802.98 628.7,807.17 631.41,804.25 634.12,807.31 636.83,800.21 639.55,801.78 642.26,800.75 644.97,807.98 647.68,812.89 650.39,803.99 653.1,801.13 655.81,806.55 658.53,801.7 661.24,805.95 663.95,801.89 666.66,806.1 668.83,802.19"/>
<polyline stroke="#0000ff" points="438.9,972.6 441.61,972.6 444.32,912.74 447.03,846.86 449.75,822.16 452.46,805.49 455.17,797.35 457.88,794.89 460.59,792.92 463.3,792.21 466.01,789.83 468.73,787.93 471.44,787.93 474.15,794.35 476.86,789.16 479.57,792.15 482.28,791.02 484.99,788.65 487.71,788.65 490.42,788.58 493.13,788.24 495.84,788.18 498.55,790.68 501.26,792.88 503.97,792.49 506.69,790.79 509.4,786.74 512.11,788.17 514.82,785.79 517.53,785.73 520.24,786.66 522.95,788.49 525.67,790.92 528.38,790.51 531.09,788.19 533.8,789.69 536.51,786.92 539.22,789.78 541.93,790.12 544.65,783.66 547.36,786.52 550.07,783.95 552.78,784.42 555.49,786.02 558.2,783.85 560.91,783.58 563.63,786.27 566.34,785.45 569.05,782.7 571.76,784.57 574.47,782.23 577.18,785.91 579.89,784.45 582.61,782.25 585.32,778.65 588.03,782.09 590.74,782.13 593.45,784.12 596.16,783.65 598.87,782.27 601.59,779.99 604.3,784.24 607.01,782.68 609.72,782.37 612.43,784.76 615.14,782.4 617.85,782.55 620.57,779.88 623.28,777.96 625.99,780.19 628.7,781.42 631.41,780.62 634.12,783.12 636.83,781 639.27,782.94"/>
</g>
<path d="M438.9 972.6v-2.7M438.9 758.7v2.7M493.13 972.6v-2.7M493.13 758.7v2.7M547.36 972.6v-2.7M547.36 758.7v2.7M601.59 972.6v-2.7M601.59 758.7v2.7M655.81 972.6v-2.7M655.81 758.7v2.7M710.04 972.6v-2.7M710.04 758.7v2.7M764.27 972.6v-2.7M764.27 758.7v2.7M818.5 972.6v-2.7M818.5 758.7v2.7M438.9 972.6h2.7M818.5 972.6h-2.7M438.9 936.95h2.7M818.5 936.95h-2.7M438.9 901.3h2.7M818.5 901.3h-2.7M438.9 865.65h2.7M818.5 865.65h-2.7M438.9 830h2.7M818.5 830h-2.7M438.9 794.35h2.7M818.5 794.35h-2.7M438.9 758.7h2.7M818.5 758.7h-2.7" stroke="#000" stroke-width="0.55" fill="none"/>
<rect x="438.9" y="758.7" width="379.6" height="213.9" fill="none" stroke="#000" stroke-width="0.8"/>
<g font-size="5.9" fill="#000" stroke="#000" stroke-width="0.2"><text x="438.9" y="980" text-anchor="middle">0</text><text x="493.13" y="980" text-anchor="middle">20</text><text x="547.36" y="980" text-anchor="middle">40</text><text x="601.59" y="980" text-anchor="middle">60</text><text x="655.81" y="980" text-anchor="middle">80</text><text x="710.04" y="980" text-anchor="middle">100</text><text x="764.27" y="980" text-anchor="middle">120</text><text x="818.5" y="980" text-anchor="middle">140</text><text x="435.9" y="974.3" text-anchor="end">0</text><text x="435.9" y="938.65" text-anchor="end">5</text><text x="435.9" y="903" text-anchor="end">10</text><text x="435.9" y="867.35" text-anchor="end">15</text><text x="435.9" y="831.7" text-anchor="end">20</text><text x="435.9" y="796.05" text-anchor="end">25</text><text x="435.9" y="760.4" text-anchor="end">30</text></g>
<text x="628.7" y="756" text-anchor="middle" font-size="7" font-weight="bold">(h) Sentence length(de)</text>
<text x="628.7" y="990" text-anchor="middle" font-size="8.07">Checkpoints (1000 batches)</text>
<text transform="translate(424.8 865.65) rotate(-90)" text-anchor="middle" font-size="8">Validation BLEU</text>
<g><path d="M762.5 911.9H772.7" stroke="#8a8a8a" stroke-width="0.85"/><text x="780.6" y="914.6" font-size="6.95">baseline</text><path d="M762.5 922.02H772.7" stroke="#1a8c1a" stroke-width="0.85"/><text x="780.6" y="924.72" font-size="6.95">default</text><path d="M762.5 932.14H772.7" stroke="#ff1a94" stroke-width="0.85"/><text x="780.6" y="934.84" font-size="6.95">reverse</text><path d="M762.5 942.26H772.7" stroke="#b22a2a" stroke-width="0.85"/><text x="780.6" y="944.96" font-size="6.95">boost</text><path d="M762.5 952.38H772.7" stroke="#ff8c10" stroke-width="0.85"/><text x="780.6" y="955.08" font-size="6.95">reduce</text><path d="M762.5 962.5H772.7" stroke="#0000ff" stroke-width="0.85"/><text x="780.6" y="965.2" font-size="6.95">noshuffle</text></g>
<clipPath id="ci"><rect x="26.9" y="1005.6" width="379.6" height="214.9"/></clipPath>
<g clip-path="url(#ci)" fill="none" stroke-width="0.85" stroke-linejoin="round" stroke-linecap="round">
<polyline stroke="#8a8a8a" points="26.9,1220.5 30.06,1220.5 33.23,1210.32 36.39,1166.02 39.55,1119.69 42.72,1086.3 45.88,1065.01 49.04,1060.08 52.21,1051.52 55.37,1045.24 58.53,1045.82 61.7,1049.38 64.86,1041.54 68.02,1041.26 71.19,1040.99 74.35,1041.88 77.51,1042.86 80.68,1042.32 83.84,1042.15 87,1040.07 90.17,1043.67 93.33,1041.93 96.49,1038.4 99.66,1041.38 102.82,1040.58 105.98,1043.21 109.15,1042.62 112.31,1040.02 115.47,1040.17 118.64,1037.53 121.8,1038.76 124.96,1039.79 128.13,1039.65 131.29,1040.14 134.45,1038.95 137.62,1039.37 140.78,1037.06 143.94,1034.29 147.11,1037.96 150.27,1038.9 153.43,1037.69 156.6,1035.93 159.76,1039.02 162.92,1036.47 166.09,1037.03 169.25,1042.04 172.41,1038.54 175.58,1034.27 178.74,1036.12 181.9,1034.23 185.07,1037.92 188.23,1038.67 191.39,1036.38 194.56,1039.94 197.72,1038.08 200.88,1041.3 204.05,1037.72 207.21,1041.89 210.37,1039.08 213.54,1040.9 216.7,1038.88 219.86,1039.9 223.03,1035.26 226.19,1039.05 229.35,1038.05 232.52,1039.26 235.68,1037.35 238.84,1037.83 242.01,1037.03 245.17,1038.31 248.33,1036.8 251.5,1034.66 254.66,1036.9 257.82,1039.31 260.99,1039.45 264.15,1036.89 267.31,1039.38 270.48,1037.58 273.64,1040.46 276.8,1040.11"/>
<polyline stroke="#1a8c1a" points="26.9,1220.5 30.06,1220.5 33.23,1220.5 36.39,1186.28 39.55,1132.35 42.72,1090.38 45.88,1057.94 49.04,1063.64 52.21,1060.38 55.37,1065.13 58.53,1054.97 61.7,1082.89 64.86,1048.67 68.02,1045.1 71.19,1041.54 74.35,1051.38 77.51,1061.23 80.68,1060.47 83.84,1066.18 87,1060.87 90.17,1058.04 93.33,1056.15 96.49,1071.82 99.66,1055.19 102.82,1048.66 105.98,1050.81 109.15,1061.3 112.31,1055.41 115.47,1050.02 118.64,1058.1 121.8,1063.55 124.96,1054.42 128.13,1049.88 131.29,1048.71 134.45,1058.36 137.62,1058.32 140.78,1047.77 143.94,1049.81 147.11,1064.24 150.27,1063.45 153.43,1050.76 156.6,1052.03 159.76,1060.23 162.92,1062.73 166.09,1049.7 169.25,1045.74 172.41,1050.41 175.58,1053.32 178.74,1062.86 181.9,1070.42 185.07,1061.35 188.23,1075.48 191.39,1064.92 194.56,1052.39 197.72,1054.63 200.88,1067.65 204.05,1057.86 207.21,1046.15 210.37,1056.67 213.54,1068.59 216.7,1056.8 219.86,1044.84 223.03,1049.65 226.19,1066.89 229.35,1056.22 232.52,1044.51 235.68,1051.93 238.84,1062.35 242.01,1053.41 245.17,1044.4 248.33,1046.65 251.5,1053.77 254.66,1055.4 257.82,1052.49 260.99,1053.11 264.15,1061 267.31,1056.37 270.48,1048.8 273.64,1042.96 276.8,1042.96 279.97,1050.66 283.13,1043.22 286.29,1045.82 289.46,1045.82 292.62,1051.16 295.78,1047.6 298.95,1045.21 302.11,1042.96 305.27,1043.68 308.44,1050.09 311.6,1046.53 314.76,1042.96 317.93,1050.09 321.09,1052.23 324.25,1046.15 327.42,1039.4 330.58,1047.82 333.74,1040.97 336.91,1046.53 340.07,1042.8 343.23,1040.82 346.4,1040.82 347.35,1040.82"/>
<polyline stroke="#ff1a94" points="26.9,1220.5 30.06,1220.5 33.23,1220.5 36.39,1220.5 39.55,1219.86 42.72,1209.09 45.88,1166.31 49.04,1112.27 52.21,1099.73 55.37,1091.73 58.53,1092.87 61.7,1079.16 64.86,1065.07 68.02,1065.07 71.19,1065.07 74.35,1073.77 77.51,1083.45 80.68,1073.3 83.84,1081.38 87,1075.19 90.17,1062.18 93.33,1048.65 96.49,1068.03 99.66,1080.55 102.82,1074.14 105.98,1058.76 109.15,1062.53 112.31,1069.28 115.47,1070.47 118.64,1051.06 121.8,1058.64 124.96,1088.81 128.13,1064.17 131.29,1055.44 134.45,1062.02 137.62,1079.51 140.78,1072.32 143.94,1059.91 147.11,1072.27 150.27,1067.14 153.43,1076.08 156.6,1066.14 159.76,1075.34 162.92,1092.33 166.09,1090.49 169.25,1085.68 172.41,1077.9 175.58,1075.13 178.74,1070.89 181.9,1060.79 185.07,1066.49 188.23,1060.27 191.39,1062.21"/>
<polyline stroke="#b22a2a" points="26.9,1220.5 30.06,1220.5 33.23,1220.5 36.39,1220.5 39.55,1219.75 42.72,1209.07 45.88,1198.4 49.04,1183.78 52.21,1169.16 55.37,1162.75 58.53,1119.08 61.7,1089.31 64.86,1094.3 68.02,1094.95 71.19,1069.34 74.35,1065.21 77.51,1064.13 80.68,1065.21 83.84,1063.79 87,1069.43 90.17,1082.32 93.33,1109.27 96.49,1066.26 99.66,1074.27 102.82,1084.26 105.98,1065.99 109.15,1055.12 112.31,1064.96 115.47,1079.78 118.64,1067.08 121.8,1092.87 124.96,1059.72 128.13,1073.56 131.29,1073.22 134.45,1054.56 137.62,1062.24 140.78,1077.08 143.94,1072.98 147.11,1059.95 150.27,1054.16 153.43,1074.61 156.6,1074 159.76,1055.84 162.92,1055.62 166.09,1069.89 169.25,1075.07 172.41,1054.33 175.58,1046.09 178.74,1067.81 181.9,1058.45 185.07,1090.31 188.23,1066.08 191.39,1054.79 194.56,1056.51 197.72,1080.04 200.88,1070.2 204.05,1060.37 207.21,1055.02 210.37,1090.02 213.54,1073.38 216.7,1056.75 219.86,1055.08 223.03,1060.5 226.19,1071.34 229.35,1082.18 232.52,1065.54 235.68,1061.81 238.84,1068.24 242.01,1050.09 245.17,1053.47 248.02,1056.51"/>
<polyline stroke="#ff8c10" points="26.9,1220.5 30.06,1214.93 33.23,1160 36.39,1105.26 39.55,1087.51 42.72,1082.18 45.88,1061.38 49.04,1062.64 52.21,1062.57 55.37,1059.84 58.53,1059.36 61.7,1054.61 64.86,1052.37 68.02,1062.36 71.19,1074.01 74.35,1058.1 77.51,1056.19 80.68,1055.83 83.84,1070.65 87,1059.72 90.17,1056.67 93.33,1069.99 96.49,1072.7 99.66,1062.79 102.82,1117.12 105.98,1063.99 109.15,1075.6 112.31,1065.11 115.47,1043.74 118.64,1074.04 121.8,1077.79 124.96,1067.29 128.13,1059.35 131.29,1073.34 134.45,1079.74 137.62,1063.98 140.78,1055.98 143.94,1071.4 147.11,1076.52 150.27,1065.87 153.43,1046.31 156.6,1056.81 159.76,1068.87 162.92,1057.84 166.09,1051 169.25,1049.78 172.41,1059.17 175.58,1062.93 178.74,1073.15 180.01,1070.77"/>
<polyline stroke="#0000ff" points="26.9,1220.5 31.33,1220.5 36.14,1199.82 39.33,1199.82 41.77,1134.23 44.93,1070.06 48.09,1067.92 52.21,1081.47 55.37,1061.5 58.53,1047.24 64.23,1071.48 70.55,1046.53 76.88,1082.89 83.52,1047.24 89.85,1075.05 96.18,1045.82 105.35,1088.6 109.46,1041.54 118.64,1088.6 124.65,1046.53 131.29,1085.03 137.93,1044.39 143.63,1070.06 150.27,1045.1 156.6,1068.63 162.92,1043.68 169.25,1067.92 175.26,1042.25 184.75,1082.18 188.07,1039.4 197.4,1078.61 200.88,1040.11 210.37,1082.89 216.07,1039.4 222.71,1064.35 229.04,1039.4 236,1062.93 242.01,1038.68 248.33,1059.36 255.29,1039.4 261.62,1057.94 267.31,1037.97 276.8,1071.48 279.65,1036.55 282.81,1038.68 285.66,1029.42 286.29,1024.42"/>
</g>
<path d="M26.9 1220.5v-2.7M26.9 1006.6v2.7M90.17 1220.5v-2.7M90.17 1006.6v2.7M153.43 1220.5v-2.7M153.43 1006.6v2.7M216.7 1220.5v-2.7M216.7 1006.6v2.7M279.97 1220.5v-2.7M279.97 1006.6v2.7M343.23 1220.5v-2.7M343.23 1006.6v2.7M406.5 1220.5v-2.7M406.5 1006.6v2.7M26.9 1220.5h2.7M406.5 1220.5h-2.7M26.9 1184.85h2.7M406.5 1184.85h-2.7M26.9 1149.2h2.7M406.5 1149.2h-2.7M26.9 1113.55h2.7M406.5 1113.55h-2.7M26.9 1077.9h2.7M406.5 1077.9h-2.7M26.9 1042.25h2.7M406.5 1042.25h-2.7M26.9 1006.6h2.7M406.5 1006.6h-2.7" stroke="#000" stroke-width="0.55" fill="none"/>
<rect x="26.9" y="1006.6" width="379.6" height="213.9" fill="none" stroke="#000" stroke-width="0.8"/>
<g font-size="5.9" fill="#000" stroke="#000" stroke-width="0.2"><text x="26.9" y="1228" text-anchor="middle">0</text><text x="90.17" y="1228" text-anchor="middle">20</text><text x="153.43" y="1228" text-anchor="middle">40</text><text x="216.7" y="1228" text-anchor="middle">60</text><text x="279.97" y="1228" text-anchor="middle">80</text><text x="343.23" y="1228" text-anchor="middle">100</text><text x="406.5" y="1228" text-anchor="middle">120</text><text x="23.9" y="1222.2" text-anchor="end">0</text><text x="23.9" y="1186.55" text-anchor="end">5</text><text x="23.9" y="1150.9" text-anchor="end">10</text><text x="23.9" y="1115.25" text-anchor="end">15</text><text x="23.9" y="1079.6" text-anchor="end">20</text><text x="23.9" y="1043.95" text-anchor="end">25</text><text x="23.9" y="1008.3" text-anchor="end">30</text></g>
<text x="216.7" y="1004" text-anchor="middle" font-size="7" font-weight="bold">(i) Sentence length(en)</text>
<text x="216.7" y="1238" text-anchor="middle" font-size="8.07">Checkpoints (1000 batches)</text>
<text transform="translate(12.8 1113.55) rotate(-90)" text-anchor="middle" font-size="8">Validation BLEU</text>
<g><path d="M350.5 1159.8H360.7" stroke="#8a8a8a" stroke-width="0.85"/><text x="368.6" y="1162.5" font-size="6.95">baseline</text><path d="M350.5 1169.92H360.7" stroke="#1a8c1a" stroke-width="0.85"/><text x="368.6" y="1172.62" font-size="6.95">default</text><path d="M350.5 1180.04H360.7" stroke="#ff1a94" stroke-width="0.85"/><text x="368.6" y="1182.74" font-size="6.95">reverse</text><path d="M350.5 1190.16H360.7" stroke="#b22a2a" stroke-width="0.85"/><text x="368.6" y="1192.86" font-size="6.95">boost</text><path d="M350.5 1200.28H360.7" stroke="#ff8c10" stroke-width="0.85"/><text x="368.6" y="1202.98" font-size="6.95">reduce</text><path d="M350.5 1210.4H360.7" stroke="#0000ff" stroke-width="0.85"/><text x="368.6" y="1213.1" font-size="6.95">noshuffle</text></g>
<clipPath id="cj"><rect x="438.9" y="1005.6" width="379.6" height="214.9"/></clipPath>
<g clip-path="url(#cj)" fill="none" stroke-width="0.85" stroke-linejoin="round" stroke-linecap="round">
<polyline stroke="#8a8a8a" points="438.9,1220.5 441.01,1220.5 443.12,1209.66 445.23,1173.54 447.34,1123.53 449.44,1089.31 451.55,1069.07 453.66,1059.14 455.77,1049.22 457.88,1047.24 459.99,1043.02 462.1,1043.21 464.21,1040.37 466.32,1040.98 468.42,1040.88 470.53,1042.21 472.64,1042.98 474.75,1041.2 476.86,1044.66 478.97,1041.21 481.08,1041.57 483.19,1042.86 485.3,1041.72 487.4,1042.8 489.51,1042.88 491.62,1040.31 493.73,1041.15 495.84,1038.71 497.95,1037.76 500.06,1040.09 502.17,1040.44 504.28,1038.58 506.38,1042.87 508.49,1042.1 510.6,1040.71 512.71,1039.97 514.82,1040.18 516.93,1040.09 519.04,1039.22 521.15,1040.09 523.26,1039.29 525.36,1039.62 527.47,1040.61 529.58,1040.86 531.69,1041.04 533.8,1039.13 535.91,1039.83 538.02,1037.17 540.13,1039.23 542.24,1036.91 544.34,1040.67 546.45,1039.12 548.56,1040.81 550.67,1039.33 552.78,1037.99 554.89,1039.48 557,1039.3 559.11,1038.4 561.22,1036.44 563.32,1039.97 565.43,1040.13 567.54,1039.58 569.65,1038.92 571.76,1039.7 573.87,1038.35 575.98,1037.73 578.09,1040.21 580.2,1036.6 582.3,1040.43 584.41,1038.16 586.52,1038.43 588.63,1036.22 590.74,1039.36 592.85,1038.56 594.96,1037.95 597.07,1037.48 599.18,1038.82 601.28,1036.27 603.39,1040.02 605.5,1039.66 607.61,1038.44 609.72,1039.63 611.83,1040.46 613.94,1036.78 616.05,1037.45 618.16,1041.43 620.26,1037.41 622.37,1037.15 624.48,1040.03 626.59,1037.03 628.7,1040.57 630.81,1039.32 632.92,1038.89 635.03,1038.06 637.14,1038.18 639.24,1038.4 641.35,1039.78 643.46,1036.71 645.57,1037.83 647.68,1039.38 649.79,1039.41 651.9,1036.88 654.01,1037.86 656.12,1039.85 658.22,1039.19 660.33,1037.37 662.44,1041.22 664.55,1039.8 666.66,1037.76 668.77,1040.25 670.88,1036.62 672.99,1040.12 675.1,1040.46 677.2,1040.39 679.31,1038.63 681.42,1039.21 683.53,1039.67 685.64,1038.54 687.75,1039.72 689.86,1038.36 691.97,1037.85 694.08,1038.22 696.18,1040.07 698.29,1037.53 700.4,1038.48 702.51,1037.62 704.62,1037.43 706.73,1039.18 708.84,1037.68 710.95,1039.59 713.06,1038.68"/>
<polyline stroke="#1a8c1a" points="438.9,1220.5 441.01,1220.5 443.12,1220.5 445.23,1220.5 447.34,1220.5 449.44,1216.22 451.55,1212.23 453.66,1208.53 455.77,1182.49 457.88,1140.13 459.99,1087.88 462.1,1066.49 464.21,1055.31 466.32,1046.68 468.42,1049.53 470.53,1053.66 472.64,1051.8 474.75,1049.94 476.86,1052.63 478.97,1057.29 481.08,1056.85 483.19,1048.79 485.3,1039.18 487.4,1043.98 489.51,1047.18 491.62,1045.18 493.73,1042.44 495.84,1049.19 497.95,1050.43 500.06,1047.93 502.17,1045.4 504.28,1046.3 506.38,1050.68 508.49,1046.35 510.6,1043.9 512.71,1047.24 514.82,1053.45 516.93,1045.69 519.04,1043.09 521.15,1045.76 523.26,1050.56 525.36,1046.43 527.47,1041.96 529.58,1047.05 531.69,1048.45 533.8,1046.81 535.91,1040.95 538.02,1046.09 540.13,1047.53 542.24,1046.98 544.34,1042.32 546.45,1045.45 548.56,1051.09 550.67,1046.08 552.78,1045.58 554.89,1046.02 557,1048.74 559.11,1046.08 561.22,1039.75 563.32,1045.23 565.43,1048.64 567.54,1045.52 569.65,1043.42 571.76,1046.55 573.87,1050.31 575.98,1043.61 578.09,1048.08 580.2,1045.62 582.3,1053.12 584.41,1044.14 586.52,1046.35 588.63,1045.74 590.74,1048.63 592.85,1044.55 594.96,1045.46 597.07,1042.93 599.18,1052.09 601.28,1051.05 603.39,1043.83 605.5,1045.13 607.61,1051.33 609.72,1044.82 611.83,1041.77 613.94,1061.75 616.05,1047.96 618.16,1045.15 620.26,1041 622.37,1044.67 624.48,1050.08 626.59,1048.85 628.7,1044.12 630.81,1045.56 632.92,1051.16 635.03,1041.41 637.14,1040.83 639.24,1043.92 641.35,1038.61 643.46,1038.99 645.57,1039.39 647.68,1040.53 649.79,1042.75 651.9,1038.4 654.01,1038.68 656.12,1039.64 658.22,1041.87 660.33,1038.39 662.44,1040.38 664.55,1040.06 666.66,1051.06 668.77,1040.42 670.88,1042.42 672.99,1039.93 675.1,1038.88 677.2,1038.93 679.31,1039.02 681.42,1041.29 683.53,1038.38 685.64,1038.89 687.75,1037.81 689.86,1039.98 691.97,1040.58 694.08,1044.45 696.18,1040.89 698.29,1045.9 700.4,1039.61 702.51,1038.9 704.62,1040.39 706.73,1040.26 708.84,1037.53 710.95,1040.35 713.06,1040.88 715.16,1043.53 717.27,1038.98 719.38,1039.94 721.49,1038.22 723.6,1040.25 725.71,1039.28 727.82,1039.74 729.93,1041.33 732.04,1040.83 734.14,1040.9 736.25,1040.59 738.36,1042.17 740.47,1038.84 742.58,1038.97 744.69,1040.95 746.8,1039.73 748.91,1039.21 751.02,1038.14 753.12,1039.96 755.23,1039.07 757.34,1038.62 759.45,1038.54 761.56,1037.73 763.04,1037.97"/>
<polyline stroke="#ff1a94" points="438.9,1220.5 441.01,1220.5 443.12,1220.5 445.23,1220.5 447.34,1220.5 449.44,1216.48 451.55,1192.77 453.66,1136.48 455.77,1101.18 457.88,1078.71 459.99,1061.86 462.1,1051.16 464.21,1046.26 466.32,1044.25 468.42,1046.55 470.53,1045.93 472.64,1044.05 474.75,1043 476.86,1042.17 478.97,1041.33 481.08,1044.48 483.19,1045.15 485.3,1043.86 487.4,1037.14 489.51,1043.32 491.62,1044.8 493.73,1040.39 495.84,1039.65 497.95,1041.51 500.06,1046.02 502.17,1042.61 504.28,1036.73 506.38,1041.73 508.49,1042.5 510.6,1045.04 512.71,1039.49 514.82,1041.61 516.93,1044.83 519.04,1040.81 521.15,1037.98 523.26,1039.26 525.36,1040 527.47,1041.03 529.58,1037.63 531.69,1040.31 533.8,1044.59 535.91,1042.52 538.02,1037.99 540.13,1040.13 542.24,1041.01 544.34,1038.64 546.45,1037.62 548.56,1038.03 550.67,1039.47 552.78,1039.24 554.89,1036 557,1038.56 559.11,1046.87 561.22,1041.26 563.32,1037.04 565.43,1038.5 567.54,1041.48 569.65,1039.04 571.76,1035.16 573.87,1038.13 575.98,1040.95 578.09,1039.43 580.2,1037.41 582.3,1038.39 584.41,1039.32 586.52,1037.73 588.63,1036.36 590.74,1038.3 592.85,1038.67 594.96,1040.03 597.07,1036.04 599.18,1038.38 601.28,1040.65 603.39,1038.59 605.5,1035.34 607.61,1034.99 609.72,1041.57 611.83,1039.18 613.94,1036 616.05,1038.45 618.16,1039.37 620.26,1037.3 622.37,1036.58 624.48,1038.46 626.59,1040.83 628.7,1039.05 630.81,1035.05 632.92,1039.44 635.03,1037.71 637.14,1038.88 639.24,1035.2 641.35,1037.37 643.46,1040.64 645.57,1039.8 647.68,1036 649.79,1038.94 651.9,1039.81 654.01,1037.96 656.12,1035.94 658.22,1038.97 660.33,1039.42 662.44,1039.06 664.55,1035.37 666.66,1038.99 668.77,1039.09 670.88,1038.86 672.99,1036.49 675.1,1040.01 677.2,1041.09 679.31,1039.27 681.42,1034.35 683.53,1037.01 685.64,1038.26 687.75,1039.78 689.86,1032.42 691.97,1046.19 694.08,1044.69 696.18,1038.2 698.29,1035.82 700.4,1039.18 702.51,1042.1 704.62,1042.16 706.73,1035.64 708.84,1037.34 710.95,1044.92 713.06,1037.12 715.16,1036.53 717.27,1036.55 719.38,1042.09 721.49,1038.65 723.6,1035.29 725.71,1038.36 727.82,1041.75 729.93,1035.94 732.04,1035.44 734.14,1037.76 736.25,1038.9 738.36,1041.95 740.47,1041.19 742.58,1040.05 744.69,1039.87 746.8,1039.84 748.91,1036.1 751.02,1035.83"/>
<polyline stroke="#b22a2a" points="438.9,1220.5 441.01,1220.5 443.12,1220.5 445.23,1187.99 447.34,1144.92 449.44,1098.64 451.55,1081.7 453.66,1069.82 455.77,1066.55 457.88,1063.64 459.99,1056.7 462.1,1050.36 464.21,1047.35 466.32,1045.74 468.42,1048.27 470.53,1050.81 472.64,1048.31 474.75,1045.82 476.86,1050.69 478.97,1055.14 481.08,1047.87 483.19,1044.46 485.3,1045.28 487.4,1057.03 489.51,1048.43 491.62,1041.13 493.73,1048.51 495.84,1052.18 497.95,1045.84 500.06,1041.41 502.17,1048.45 504.28,1053.18 506.38,1054.32 508.49,1042.53 510.6,1047.32 512.71,1051.62 514.82,1047.76 516.93,1067.92 519.04,1048.42 521.15,1067.2 523.26,1047.9 525.36,1042.03 527.47,1047.64 529.58,1052.09 531.69,1049.94 533.8,1040.93 535.91,1049.81 538.02,1052.6 540.13,1046.34 542.24,1043.75 544.34,1044.38 546.45,1050.92 548.56,1045.35 550.67,1043.47 552.78,1047.17 554.89,1051.78 557,1047.27 559.11,1040.07 561.22,1046.75 563.32,1051.84 565.43,1047.81 567.54,1039.74 569.65,1046.57 571.76,1050.31 573.87,1044.02 575.98,1040.29 578.09,1046.42 580.2,1052.39 582.3,1044.68 584.41,1038.05 586.52,1045.7 588.63,1050.12 590.74,1043.2 592.85,1040.84 594.96,1044.49 597.07,1051.37 599.18,1045.47 601.28,1039.01 603.39,1045.71 605.5,1050.91 607.61,1046.6 609.72,1041.09 611.83,1043.93 613.94,1052.35 616.05,1044.69 618.16,1038.79 620.26,1045.87 622.37,1051.68 624.48,1044.99 626.59,1040.86 628.7,1047.1 630.81,1048.56 632.92,1045.52 635.03,1039.12 637.14,1046.04 639.24,1049.63 641.35,1043.77 643.46,1038.91 645.57,1041.65 647.68,1037.73 649.79,1041.61 651.9,1040.4 654.01,1041.31 656.12,1040.02 658.22,1040.32 660.33,1041.31 662.44,1039.72 664.55,1039.05 666.66,1038.15 668.77,1041.15 670.88,1038.64 672.99,1036.92 675.1,1039.71 677.2,1037.33 679.31,1038.59 681.42,1041.21 683.53,1035.48 685.64,1038.11 687.75,1040.23 689.86,1040.46 691.97,1041.39 694.08,1038.19 696.18,1040.6 698.29,1036.9 700.4,1036.96 702.51,1039.53 704.62,1038.35 706.73,1038.98 708.84,1041.7 710.95,1039.62 713.06,1040.11 715.16,1038.3 717.27,1041.13 719.38,1038.28 721.49,1038.27 723.6,1038.14 725.71,1041.04 727.82,1041.98 729.93,1038.58 732.04,1038.36 734.14,1039.65 736.25,1039.85 738.36,1036.07 740.47,1041.09 742.58,1039.58 744.69,1041.64 746.8,1041.96 748.91,1041.97 751.02,1038.25 753.12,1039.74 755.23,1040.49 757.34,1041.25 759.45,1038.85 761.56,1040.53 763.67,1035.43 765.78,1039.55 767.89,1037.4 770,1034.09 772.1,1039.51 774.21,1037.34 776.32,1037.35 778.43,1037.48 780.54,1037.6 782.65,1039.35 784.76,1041.14 786.87,1040.3 788.98,1042.92 791.08,1038.71 793.19,1040.19 794.88,1040.11"/>
<polyline stroke="#ff8c10" points="438.9,1220.5 441.01,1220.5 443.12,1189.7 445.23,1141.14 447.34,1077.9 449.44,1063.64 451.55,1057.1 453.66,1054.82 455.77,1047.48 457.88,1052.23 459.99,1047.86 462.1,1043.58 464.21,1061.96 466.32,1080.34 468.42,1065.29 470.53,1046.53 472.64,1049.74 474.75,1052.94 476.86,1062.85 478.97,1068.7 481.08,1058.32 483.19,1047.95 485.3,1059.01 487.4,1070.06 489.51,1075.31 491.62,1076.77 493.73,1044.09 495.84,1048.94 497.95,1069.34 500.06,1054.86 502.17,1040.74 504.28,1050.65 506.38,1062.57 508.49,1045.47 510.6,1039.78 512.71,1077.9 514.82,1064.16 516.93,1047.5 519.04,1038.16 521.15,1045.26 523.26,1054.73 525.36,1045.21 527.47,1038.97 529.58,1051.66 531.69,1053.61 533.8,1057.95 535.91,1039.27 538.02,1060.08 540.13,1062.99 542.24,1044.96 544.34,1038.31 546.45,1047.9 548.56,1055.45 550.67,1048.25 552.78,1037.52 554.89,1046.61 557,1063.57 559.11,1056.98 561.22,1041.44 563.32,1046.99 565.43,1054.1 567.54,1042.64 569.65,1042.01 571.76,1050.11 573.87,1054.94 575.98,1045.84 578.09,1042.21 580.2,1046.71 582.3,1053.12 584.41,1045.54 586.52,1036.04 588.63,1060.55 590.74,1053.2 592.85,1048.3 594.96,1038.61 597.07,1047.87 599.18,1052.87 601.28,1048.56 603.39,1039.45 605.5,1047.75 607.61,1051.55 609.72,1049.64 611.83,1038.05 613.94,1047.4 616.05,1055.25 618.16,1047.45 620.26,1036.66 622.37,1044.41 624.48,1054.21 626.59,1049.51 628.7,1037.32 630.81,1048.77 632.92,1060.18 635.03,1048.07 637.14,1043.96 639.24,1042.25"/>
<polyline stroke="#0000ff" points="438.9,1220.5 441.01,1189.84 443.12,1124.12 445.23,1091.58 447.34,1077.19 449.44,1067.78 451.55,1060.64 453.66,1066.27 455.77,1058.16 457.88,1050.87 459.99,1050.4 462.1,1058.25 464.21,1050.81 466.32,1049.62 468.42,1054.37 470.53,1065.07 472.64,1057.94 474.75,1050.81 476.86,1051.28 478.97,1058.97 481.08,1062.59 483.19,1049.28 485.3,1053.66 487.4,1060 489.51,1062.78 491.62,1051.38 493.73,1047.78 495.84,1062.69 497.95,1059.59 500.06,1048.68 502.17,1047.6 504.28,1059.83 506.38,1053.98 508.49,1050.61 510.6,1048.02 512.71,1058.94 514.82,1062.38 516.93,1048.45 519.04,1050.81 521.15,1059.44 523.26,1055.83 525.36,1049.68 527.47,1045.11 529.58,1063.6 531.69,1053.06 533.8,1049.73 535.91,1052.02 538.02,1058.42 540.13,1057.46 542.24,1044.77 544.34,1046.64 546.45,1062.19 548.56,1056.65 550.67,1046.03 552.78,1047.83 554.89,1059.25 557,1055.16 559.11,1045.49 561.22,1049.54 563.32,1056.59 565.43,1055.5 567.54,1044.35 569.65,1046.51 571.76,1056.36 573.87,1054.51 575.98,1044.57 578.09,1052.4 580.2,1054.68 582.3,1054.4 584.41,1044.63 586.52,1046.12 588.63,1058.36 590.74,1055.28 592.85,1042.44 594.96,1047.93 597.07,1057.99 599.18,1051.63 601.28,1042.66 603.39,1049.48 605.5,1056.34 607.61,1057.66 609.72,1047.59 611.83,1049.54 613.94,1058.5 616.05,1053.73 618.16,1051.35 620.05,1056.51"/>
</g>
<path d="M438.9 1220.5v-2.7M438.9 1006.6v2.7M481.08 1220.5v-2.7M481.08 1006.6v2.7M523.26 1220.5v-2.7M523.26 1006.6v2.7M565.43 1220.5v-2.7M565.43 1006.6v2.7M607.61 1220.5v-2.7M607.61 1006.6v2.7M649.79 1220.5v-2.7M649.79 1006.6v2.7M691.97 1220.5v-2.7M691.97 1006.6v2.7M734.14 1220.5v-2.7M734.14 1006.6v2.7M776.32 1220.5v-2.7M776.32 1006.6v2.7M818.5 1220.5v-2.7M818.5 1006.6v2.7M438.9 1220.5h2.7M818.5 1220.5h-2.7M438.9 1184.85h2.7M818.5 1184.85h-2.7M438.9 1149.2h2.7M818.5 1149.2h-2.7M438.9 1113.55h2.7M818.5 1113.55h-2.7M438.9 1077.9h2.7M818.5 1077.9h-2.7M438.9 1042.25h2.7M818.5 1042.25h-2.7M438.9 1006.6h2.7M818.5 1006.6h-2.7" stroke="#000" stroke-width="0.55" fill="none"/>
<rect x="438.9" y="1006.6" width="379.6" height="213.9" fill="none" stroke="#000" stroke-width="0.8"/>
<g font-size="5.9" fill="#000" stroke="#000" stroke-width="0.2"><text x="438.9" y="1228" text-anchor="middle">0</text><text x="481.08" y="1228" text-anchor="middle">20</text><text x="523.26" y="1228" text-anchor="middle">40</text><text x="565.43" y="1228" text-anchor="middle">60</text><text x="607.61" y="1228" text-anchor="middle">80</text><text x="649.79" y="1228" text-anchor="middle">100</text><text x="691.97" y="1228" text-anchor="middle">120</text><text x="734.14" y="1228" text-anchor="middle">140</text><text x="776.32" y="1228" text-anchor="middle">160</text><text x="818.5" y="1228" text-anchor="middle">180</text><text x="435.9" y="1222.2" text-anchor="end">0</text><text x="435.9" y="1186.55" text-anchor="end">5</text><text x="435.9" y="1150.9" text-anchor="end">10</text><text x="435.9" y="1115.25" text-anchor="end">15</text><text x="435.9" y="1079.6" text-anchor="end">20</text><text x="435.9" y="1043.95" text-anchor="end">25</text><text x="435.9" y="1008.3" text-anchor="end">30</text></g>
<text x="628.7" y="1004" text-anchor="middle" font-size="7" font-weight="bold">(j) Sentence length(deen)</text>
<text x="628.7" y="1238" text-anchor="middle" font-size="8.07">Checkpoints (1000 batches)</text>
<text transform="translate(424.8 1113.55) rotate(-90)" text-anchor="middle" font-size="8">Validation BLEU</text>
<g><path d="M762.5 1159.8H772.7" stroke="#8a8a8a" stroke-width="0.85"/><text x="780.6" y="1162.5" font-size="6.95">baseline</text><path d="M762.5 1169.92H772.7" stroke="#1a8c1a" stroke-width="0.85"/><text x="780.6" y="1172.62" font-size="6.95">default</text><path d="M762.5 1180.04H772.7" stroke="#ff1a94" stroke-width="0.85"/><text x="780.6" y="1182.74" font-size="6.95">reverse</text><path d="M762.5 1190.16H772.7" stroke="#b22a2a" stroke-width="0.85"/><text x="780.6" y="1192.86" font-size="6.95">boost</text><path d="M762.5 1200.28H772.7" stroke="#ff8c10" stroke-width="0.85"/><text x="780.6" y="1202.98" font-size="6.95">reduce</text><path d="M762.5 1210.4H772.7" stroke="#0000ff" stroke-width="0.85"/><text x="780.6" y="1213.1" font-size="6.95">noshuffle</text></g>
</svg></body></html>
